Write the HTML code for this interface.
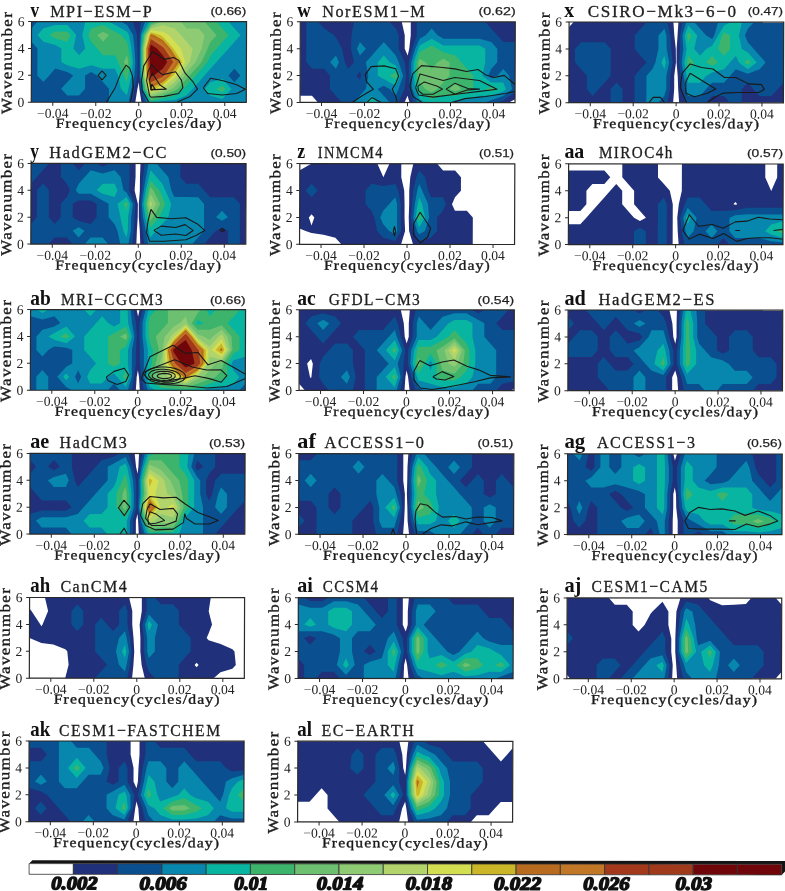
<!DOCTYPE html>
<html><head><meta charset="utf-8"><title>Wavenumber-frequency spectra</title>
<style>html,body{margin:0;padding:0;background:#fff;width:785px;height:891px;overflow:hidden}svg{display:block}</style>
</head><body>
<svg width="785" height="891" viewBox="0 0 785 891">
<g transform="matrix(1 0.0008 -0.0034 1 0.07327 -0.02524)">
<defs>
<clipPath id="cv"><rect x="31.55" y="21.55" width="215.00" height="80.70"/></clipPath>
<clipPath id="cw"><rect x="300.30" y="21.55" width="215.00" height="80.70"/></clipPath>
<clipPath id="cx"><rect x="569.10" y="21.55" width="214.60" height="80.70"/></clipPath>
<clipPath id="cy"><rect x="31.55" y="163.40" width="215.00" height="80.70"/></clipPath>
<clipPath id="cz"><rect x="300.30" y="163.40" width="215.00" height="80.70"/></clipPath>
<clipPath id="caa"><rect x="569.10" y="163.40" width="214.60" height="80.70"/></clipPath>
<clipPath id="cab"><rect x="31.55" y="309.55" width="215.00" height="80.70"/></clipPath>
<clipPath id="cac"><rect x="300.30" y="309.55" width="215.00" height="80.70"/></clipPath>
<clipPath id="cad"><rect x="569.10" y="309.55" width="214.60" height="80.70"/></clipPath>
<clipPath id="cae"><rect x="31.55" y="453.40" width="215.00" height="80.70"/></clipPath>
<clipPath id="caf"><rect x="300.30" y="453.40" width="215.00" height="80.70"/></clipPath>
<clipPath id="cag"><rect x="569.10" y="453.40" width="214.60" height="80.70"/></clipPath>
<clipPath id="cah"><rect x="31.55" y="597.50" width="215.00" height="80.70"/></clipPath>
<clipPath id="cai"><rect x="300.30" y="597.50" width="215.00" height="80.70"/></clipPath>
<clipPath id="caj"><rect x="569.10" y="597.50" width="214.60" height="80.70"/></clipPath>
<clipPath id="cak"><rect x="31.55" y="741.00" width="215.00" height="80.70"/></clipPath>
<clipPath id="cal"><rect x="300.30" y="741.00" width="215.00" height="80.70"/></clipPath>
</defs>
<g>
<rect x="31.55" y="21.55" width="215.00" height="80.70" fill="#fff"/>
<g clip-path="url(#cv)">
<path fill="#21307a" fill-rule="evenodd" d="M43.5 21.6L55.4 21.6L67.4 21.6L79.3 21.6L91.3 21.6L103.2 21.6L115.2 21.6L127.1 21.6L139.1 21.6L151.0 21.6L162.9 21.6L174.9 21.6L186.8 21.6L198.8 21.6L210.7 21.6L222.7 21.6L234.6 21.6L246.6 21.6L246.6 35.0L246.6 48.5L246.6 61.9L246.6 75.4L246.6 88.8L246.6 102.2L234.6 102.2L222.7 102.2L210.7 102.2L198.8 102.2L186.8 102.2L174.9 102.2L162.9 102.2L151.0 102.2L141.7 102.2L139.6 88.8L139.1 82.1L137.6 88.8L135.6 102.2L127.1 102.2L115.2 102.2L103.2 102.2L91.3 102.2L79.3 102.2L67.4 102.2L55.4 102.2L43.5 102.2L31.6 102.2L31.6 88.8L31.6 75.4L31.6 61.9L31.6 48.5L31.6 35.0L31.6 21.6Z"/>
<path fill="#0a4f8f" fill-rule="evenodd" d="M43.5 21.6L55.4 21.6L67.4 21.6L79.3 21.6L91.3 21.6L103.2 21.6L115.2 21.6L127.1 21.6L133.1 21.6L137.1 35.0L137.6 48.5L137.9 61.9L137.6 75.4L134.6 88.8L132.2 102.2L127.1 102.2L115.2 102.2L103.2 102.2L91.3 102.2L79.3 102.2L67.4 102.2L55.4 102.2L43.5 102.2L31.6 102.2L31.6 88.8L31.6 75.4L31.6 61.9L31.6 48.5L31.6 35.0L31.6 21.6ZM151.0 21.6L162.9 21.6L174.9 21.6L186.8 21.6L198.8 21.6L210.7 21.6L222.7 21.6L234.6 21.6L246.6 21.6L246.6 35.0L246.6 48.5L246.6 61.9L246.6 75.4L246.6 88.8L246.6 102.2L234.6 102.2L222.7 102.2L210.7 102.2L198.8 102.2L186.8 102.2L174.9 102.2L162.9 102.2L151.0 102.2L144.4 102.2L140.8 88.8L139.5 75.4L139.4 61.9L139.4 48.5L139.6 35.0L141.0 21.6Z"/>
<path fill="#0787ad" fill-rule="evenodd" d="M43.5 21.6L55.4 21.6L67.4 21.6L79.3 21.6L91.3 21.6L103.2 21.6L115.2 21.6L121.1 21.6L127.1 24.9L133.1 35.0L134.6 48.5L135.5 61.9L134.6 75.4L131.6 88.8L128.8 102.3L127.1 102.2L115.2 102.2L109.2 102.2L109.2 88.8L103.2 82.1L97.2 75.4L91.3 72.0L85.3 75.4L85.3 88.8L79.3 95.5L67.4 95.5L61.4 88.8L67.4 82.1L73.4 75.4L67.4 72.0L55.4 68.6L49.5 75.4L43.5 82.1L37.5 75.4L37.5 61.9L37.5 48.5L31.6 41.7L31.6 35.0L31.6 28.3L37.5 21.6ZM151.0 21.6L162.9 21.6L174.9 21.6L186.8 21.6L198.8 21.6L210.7 21.6L222.7 21.6L234.6 21.6L246.6 21.6L246.6 35.0L246.6 48.5L246.6 61.9L246.6 75.4L246.6 88.8L246.6 102.2L234.6 102.2L222.7 102.2L210.7 102.2L198.8 102.2L186.8 102.2L174.9 102.2L162.9 102.2L151.0 102.2L147.0 102.2L142.0 88.8L140.3 75.4L140.2 61.9L140.2 48.5L140.8 35.0L145.0 21.6ZM228.6 75.4L234.6 82.1L240.6 75.4L234.6 68.6Z"/>
<path fill="#08b5a0" fill-rule="evenodd" d="M43.5 28.3L55.4 24.9L67.4 24.9L76.3 35.0L73.4 48.5L79.3 55.2L85.3 48.5L82.3 35.0L85.3 21.6L91.3 21.6L103.2 21.6L109.2 21.6L115.2 24.9L127.1 31.6L129.1 35.0L131.6 48.5L133.1 61.9L131.6 75.4L128.6 88.8L127.1 95.5L121.1 88.8L118.1 75.4L115.2 68.6L103.2 68.6L91.3 65.3L79.3 68.6L67.4 65.3L61.4 61.9L61.4 48.5L55.4 45.1L43.5 41.7L37.5 35.0ZM151.0 21.6L162.9 21.6L174.9 21.6L186.8 21.6L198.8 21.6L210.7 21.6L222.7 21.6L228.6 21.6L234.6 28.3L240.6 35.0L234.6 41.7L228.6 48.5L222.7 55.2L216.7 61.9L210.7 68.6L204.7 75.4L198.8 82.1L192.8 88.8L186.8 95.5L174.9 100.0L162.9 100.9L157.0 102.2L151.0 102.2L149.7 102.2L143.2 88.8L141.2 75.4L141.0 61.9L141.0 48.5L142.0 35.0L149.0 21.6ZM210.7 82.1L222.7 78.7L231.6 88.8L222.7 98.9L210.7 95.5L204.7 88.8Z"/>
<path fill="#3cb46b" fill-rule="evenodd" d="M55.4 31.6L67.4 31.6L70.4 35.0L67.4 41.7L55.4 38.4L49.5 35.0ZM91.3 28.3L103.2 24.9L115.2 31.6L121.1 35.0L127.1 41.7L128.6 48.5L130.7 61.9L128.6 75.4L127.1 82.1L124.1 75.4L118.1 61.9L115.2 55.2L103.2 55.2L97.2 48.5L91.3 41.7L88.3 35.0ZM151.0 22.5L153.0 21.6L162.9 21.6L174.9 21.6L186.8 21.6L198.8 21.6L210.7 21.6L216.7 21.6L222.7 28.3L228.6 35.0L222.7 41.7L216.7 48.5L210.7 55.2L207.7 61.9L198.8 72.0L195.8 75.4L186.8 85.4L183.8 88.8L174.9 95.5L162.9 98.2L151.0 101.1L144.4 88.8L142.0 75.4L141.8 61.9L141.8 48.5L143.2 35.0ZM222.7 85.4L225.6 88.8L222.7 92.2L216.7 88.8Z"/>
<path fill="#6cc070" fill-rule="evenodd" d="M103.2 31.6L109.2 35.0L103.2 41.7L97.2 35.0ZM151.0 24.4L157.0 21.6L162.9 21.6L174.9 21.6L186.8 21.6L198.8 21.6L204.7 21.6L210.7 28.3L216.7 35.0L210.7 41.7L207.7 48.5L201.8 61.9L198.8 65.3L189.8 75.4L186.8 78.7L177.9 88.8L174.9 91.0L162.9 95.5L151.0 98.9L145.6 88.8L142.9 75.4L142.6 61.9L142.6 48.5L144.4 35.0ZM127.1 55.2L128.3 61.9L127.1 68.6L124.1 61.9Z"/>
<path fill="#8ecb72" fill-rule="evenodd" d="M151.0 26.4L160.9 21.6L162.9 21.6L174.9 21.6L180.9 21.6L186.8 28.3L198.8 28.3L204.7 35.0L201.8 48.5L198.8 55.2L195.8 61.9L186.8 72.0L184.8 75.4L174.9 86.6L171.9 88.8L162.9 92.8L151.0 96.6L146.8 88.8L143.7 75.4L143.4 61.9L143.4 48.5L145.6 35.0Z"/>
<path fill="#b2d46a" fill-rule="evenodd" d="M151.0 28.3L162.9 24.9L174.9 28.3L180.9 35.0L186.8 41.7L192.8 48.5L189.8 61.9L186.8 65.3L180.9 75.4L174.9 82.1L165.9 88.8L162.9 90.1L151.0 94.4L148.0 88.8L144.6 75.4L144.2 61.9L144.2 48.5L146.8 35.0Z"/>
<path fill="#d3df50" fill-rule="evenodd" d="M151.0 30.2L162.9 31.6L168.9 35.0L174.9 41.7L180.9 48.5L185.3 61.9L176.9 75.4L174.9 77.6L162.9 87.5L160.0 88.8L151.0 92.2L149.2 88.8L145.4 75.4L145.0 61.9L145.0 48.5L148.0 35.0Z"/>
<path fill="#cab626" fill-rule="evenodd" d="M151.0 32.1L160.0 35.0L162.9 36.7L173.4 48.5L174.9 50.7L182.3 61.9L174.9 73.1L173.4 75.4L162.9 84.8L154.0 88.8L151.0 89.9L150.4 88.8L146.3 75.4L145.8 61.9L145.8 48.5L149.2 35.0Z"/>
<path fill="#b86b1e" fill-rule="evenodd" d="M151.0 34.0L154.0 35.0L162.9 40.0L170.4 48.5L174.9 55.2L179.4 61.9L174.9 68.6L170.4 75.4L162.9 82.1L151.0 87.5L147.2 75.4L146.6 61.9L146.6 48.5L150.4 35.0Z"/>
<path fill="#c27727" fill-rule="evenodd" d="M151.0 36.3L162.9 43.4L167.4 48.5L174.9 59.7L176.4 61.9L174.9 64.1L167.4 75.4L162.9 79.4L151.0 84.8L148.0 75.4L147.4 61.9L147.4 48.5Z"/>
<path fill="#a3391a" fill-rule="evenodd" d="M151.0 39.0L162.9 46.8L164.4 48.5L173.4 61.9L164.4 75.4L162.9 76.7L151.0 82.1L148.9 75.4L148.2 61.9L148.2 48.4Z"/>
<path fill="#a1391b" fill-rule="evenodd" d="M151.0 41.7L160.9 48.5L162.9 50.7L170.4 61.9L162.9 73.1L160.0 75.4L151.0 79.4L149.7 75.4L149.0 61.9L149.0 48.5Z"/>
<path fill="#71060a" fill-rule="evenodd" d="M151.0 44.4L157.0 48.5L162.9 55.2L167.4 61.9L162.9 68.6L154.0 75.4L151.0 76.7L150.6 75.4L149.8 61.9L149.8 48.5Z"/>
<path fill="#70060a" fill-rule="evenodd" d="M151.0 47.1L153.0 48.5L162.9 59.7L164.4 61.9L162.9 64.1L151.0 68.6L150.6 61.9L150.6 48.5Z"/>
</g>
<g clip-path="url(#cv)" fill="none" stroke="#1a1a1a" stroke-width="1.1" stroke-linejoin="round">
<polyline points="106.7,102.2 115.4,87.6 121.1,73.1 126.2,65.1 129.8,68.0 132.7,76.0 133.5,87.6 130.7,102.2"/>
<polyline points="102.2,70.9 106.3,75.3 102.3,79.7 98.2,75.3 102.2,70.9"/>
<polyline points="149.1,102.1 142.5,90.5 141.7,80.4 143.9,65.8 152.5,51.6 158.3,54.9 164.2,59.3 173.6,57.4 178.7,60.0 185.3,73.1 193.3,81.8 197.7,89.0 190.4,96.3 177.4,101.8"/>
<polyline points="149.8,95.6 146.8,80.4 148.2,71.6 151.8,64.4 156.9,70.2 162.8,74.5 175.8,71.6 181.7,80.3 183.1,87.6 178.8,93.4 164.3,96.3 151.2,97.1 149.8,95.6"/>
<polyline points="151.2,89.8 149.7,78.9 152.6,73.1 159.9,84.7 166.5,89.1 159.9,89.3 151.2,89.8"/>
<polyline points="151.9,84.0 155.3,88.8 151.2,89.8 151.9,84.0"/>
<polyline points="203.5,87.6 210.7,78.1 222.3,80.3 236.9,84.6 245.6,89.0 236.9,93.4 222.4,94.8 207.9,93.4 203.5,87.6"/>
</g>
<rect x="31.55" y="21.55" width="215.00" height="80.70" fill="none" stroke="#2a2a2a" stroke-width="1.2"/>
<path d="M28.15 102.25H31.55M28.15 75.35H31.55M28.15 48.45H31.55M28.15 21.55H31.55M53.05 102.25V105.85M96.05 102.25V105.85M139.05 102.25V105.85M182.05 102.25V105.85M225.05 102.25V105.85" stroke="#2a2a2a" stroke-width="1" fill="none"/>
<g font-family="Liberation Serif, serif" font-size="13.6" fill="#222">
<text x="24.55" y="106.85" text-anchor="end">0</text>
<text x="24.55" y="79.95" text-anchor="end">2</text>
<text x="24.55" y="53.05" text-anchor="end">4</text>
<text x="24.55" y="26.15" text-anchor="end">6</text>
<text x="53.05" y="117.85" text-anchor="middle">−0.04</text>
<text x="96.05" y="117.85" text-anchor="middle">−0.02</text>
<text x="139.05" y="117.85" text-anchor="middle">0</text>
<text x="182.05" y="117.85" text-anchor="middle">0.02</text>
<text x="225.05" y="117.85" text-anchor="middle">0.04</text>
</g>
<text x="139.55" y="127.65" text-anchor="middle" font-family="Liberation Serif, serif" font-size="13.6" fill="#1a1a1a" stroke="#1a1a1a" stroke-width="0.35" letter-spacing="1.0" textLength="167" lengthAdjust="spacingAndGlyphs">Frequency(cycles/day)</text>
<text transform="translate(11.95 62.40) rotate(-90)" text-anchor="middle" font-family="Liberation Serif, serif" font-size="15.2" fill="#1a1a1a" stroke="#1a1a1a" stroke-width="0.35" letter-spacing="1.2" textLength="103" lengthAdjust="spacingAndGlyphs">Wavenumber</text>
</g>
<g>
<rect x="300.30" y="21.55" width="215.00" height="80.70" fill="#fff"/>
<g clip-path="url(#cw)">
<path fill="#21307a" fill-rule="evenodd" d="M312.2 21.6L324.2 21.6L336.1 21.6L348.1 21.6L360.0 21.6L372.0 21.6L383.9 21.6L395.9 21.6L401.8 21.6L404.8 35.0L404.8 48.5L407.8 55.2L409.3 48.5L410.8 35.0L410.8 21.6L419.7 21.6L431.7 21.6L443.6 21.6L455.6 21.6L467.5 21.6L479.5 21.6L491.4 21.6L503.4 21.6L515.3 21.6L515.3 35.0L515.3 48.5L515.3 61.9L515.3 75.4L515.3 88.8L515.3 98.9L509.3 102.2L503.4 102.2L491.4 102.2L479.5 102.2L467.5 102.2L455.6 102.2L443.6 102.2L431.7 102.2L419.7 102.2L409.8 102.2L407.8 95.5L404.8 102.2L395.9 102.2L383.9 102.2L372.0 102.2L360.0 102.2L348.1 102.2L336.1 102.2L324.2 102.2L318.2 102.2L312.2 95.5L300.3 95.5L300.3 88.8L300.3 75.4L300.3 61.9L300.3 48.5L300.3 35.0L300.3 21.6Z"/>
<path fill="#0a4f8f" fill-rule="evenodd" d="M312.2 21.6L318.2 21.6L324.2 28.3L334.1 35.0L336.1 37.2L342.1 48.5L345.1 61.9L348.1 68.6L354.1 61.9L351.1 48.5L351.5 35.0L354.1 21.6L360.0 21.6L372.0 21.6L383.9 21.6L389.9 21.6L395.9 28.3L398.8 35.0L398.8 48.5L404.8 61.9L406.3 75.4L404.8 88.8L398.8 102.2L395.9 102.2L383.9 102.2L372.0 102.2L360.0 102.2L348.1 102.2L342.1 102.2L336.1 95.5L330.2 88.8L330.2 75.4L324.2 68.6L312.2 68.6L306.3 61.9L306.3 48.5L306.3 35.0L306.3 21.6ZM356.6 75.4L360.0 79.2L361.4 75.3L360.0 71.5ZM419.7 21.6L431.7 21.6L443.6 21.6L455.6 21.6L467.5 21.6L479.5 21.6L485.4 21.6L491.4 28.3L497.4 35.0L503.4 41.7L515.3 41.7L515.3 48.5L515.3 61.9L515.3 75.4L515.3 88.8L515.3 92.2L503.4 100.0L497.4 102.2L491.4 102.2L479.5 102.2L467.5 102.2L455.6 102.2L443.6 102.2L431.7 102.2L419.7 102.2L413.8 102.2L409.3 88.8L409.0 75.4L409.0 61.9L412.3 48.5L416.8 35.0L416.8 21.6Z"/>
<path fill="#0787ad" fill-rule="evenodd" d="M431.7 28.3L437.7 35.0L443.6 38.4L455.6 38.4L467.5 38.4L479.5 38.4L491.4 41.7L497.4 48.5L497.4 61.9L491.4 68.6L488.4 75.4L491.4 77.6L497.4 75.4L503.4 68.6L509.3 75.4L512.3 88.8L503.4 95.5L491.4 100.0L485.4 102.2L479.5 102.2L467.5 102.2L455.6 102.2L443.6 102.2L431.7 102.2L419.7 102.2L417.8 102.2L412.3 88.8L411.4 75.4L411.4 61.9L415.3 48.5L419.7 38.4L425.7 35.0ZM360.0 41.7L366.0 48.5L360.0 55.2L357.0 48.5ZM383.9 41.7L389.9 48.5L395.9 55.2L398.8 61.9L403.3 75.4L398.8 88.8L395.9 95.5L389.9 88.8L383.9 85.4L377.9 88.8L383.9 95.5L389.9 102.2L383.9 102.2L372.0 102.2L360.0 102.2L354.1 102.2L360.0 95.5L366.0 88.8L368.5 75.3L366.0 61.9L372.0 55.2L377.9 48.5ZM336.1 55.2L339.1 61.9L336.1 68.6L330.2 61.9Z"/>
<path fill="#08b5a0" fill-rule="evenodd" d="M419.7 45.1L431.7 38.4L443.6 45.1L455.6 45.1L467.5 45.1L479.5 45.1L485.4 48.5L485.4 61.9L482.5 75.4L491.4 82.1L503.4 82.1L506.3 88.8L503.4 91.0L491.4 95.5L479.5 95.5L467.5 98.9L455.6 100.0L449.6 102.2L443.6 102.2L431.7 102.2L425.7 102.2L419.7 98.9L415.3 88.8L413.8 75.4L413.8 61.9L418.3 48.5ZM383.9 55.2L389.9 61.9L395.9 65.3L400.3 75.4L395.9 85.4L383.9 78.7L377.9 75.4L377.9 61.9ZM372.0 95.5L377.9 102.2L372.0 102.2L366.0 102.2Z"/>
<path fill="#3cb46b" fill-rule="evenodd" d="M431.7 45.1L437.7 48.5L443.6 51.8L455.6 55.2L461.5 61.9L467.5 68.6L473.5 75.4L473.5 88.8L467.5 92.2L455.6 95.5L443.6 95.5L431.7 98.9L419.7 92.2L418.3 88.8L416.2 75.4L416.2 61.9L419.7 51.8L425.7 48.5ZM395.9 72.0L397.3 75.4L395.9 78.7L389.9 75.4ZM491.4 86.6L497.4 88.8L491.4 91.0L485.4 88.8Z"/>
<path fill="#6cc070" fill-rule="evenodd" d="M419.7 58.5L425.7 61.9L431.7 68.6L437.7 61.9L443.6 58.5L449.6 61.9L449.6 75.4L443.6 82.1L437.7 88.8L431.7 92.2L425.7 88.8L419.7 82.1L418.5 75.4L418.5 61.9ZM455.6 82.1L461.5 88.8L455.6 91.0L449.6 88.8Z"/>
</g>
<g clip-path="url(#cw)" fill="none" stroke="#1a1a1a" stroke-width="1.1" stroke-linejoin="round">
<polyline points="352.5,102.3 361.2,96.2 373.5,88.9 366.9,81.6 365.4,74.4 371.2,66.4 384.3,65.6 395.9,68.5 398.8,75.8 396.0,83.1 392.4,88.9 396.0,96.1 397.5,102.2"/>
<polyline points="367.0,102.3 372.0,97.3 381.5,102.2"/>
<polyline points="421.7,101.6 413.0,96.1 410.0,86.0 412.9,73.6 421.6,65.3 440.5,67.0 455.0,68.5 466.6,71.1 478.2,69.2 485.5,74.3 494.2,77.2 504.4,75.0 515.5,84.4"/>
<polyline points="452.2,102.2 465.3,98.3 485.6,96.1 505.9,93.1 515.5,91.0"/>
<polyline points="415.8,87.4 420.2,73.6 443.4,80.1 455.0,77.2 479.7,80.1 497.2,88.8 479.8,91.0 462.3,93.2 433.3,96.8 418.8,94.7 415.8,87.4"/>
<polyline points="418.0,85.9 424.5,81.6 437.6,85.9 442.7,88.8 433.3,93.9 423.1,93.9 418.8,90.3 418.0,85.9"/>
<polyline points="446.3,88.8 455.0,83.0 468.1,88.1 479.7,88.8 468.1,89.5 455.1,93.9 446.3,88.8"/>
</g>
<rect x="300.30" y="21.55" width="215.00" height="80.70" fill="none" stroke="#2a2a2a" stroke-width="1.2"/>
<path d="M296.90 102.25H300.30M296.90 75.35H300.30M296.90 48.45H300.30M296.90 21.55H300.30M321.80 102.25V105.85M364.80 102.25V105.85M407.80 102.25V105.85M450.80 102.25V105.85M493.80 102.25V105.85" stroke="#2a2a2a" stroke-width="1" fill="none"/>
<g font-family="Liberation Serif, serif" font-size="13.6" fill="#222">
<text x="293.30" y="106.85" text-anchor="end">0</text>
<text x="293.30" y="79.95" text-anchor="end">2</text>
<text x="293.30" y="53.05" text-anchor="end">4</text>
<text x="293.30" y="26.15" text-anchor="end">6</text>
<text x="321.80" y="117.85" text-anchor="middle">−0.04</text>
<text x="364.80" y="117.85" text-anchor="middle">−0.02</text>
<text x="407.80" y="117.85" text-anchor="middle">0</text>
<text x="450.80" y="117.85" text-anchor="middle">0.02</text>
<text x="493.80" y="117.85" text-anchor="middle">0.04</text>
</g>
<text x="408.30" y="127.65" text-anchor="middle" font-family="Liberation Serif, serif" font-size="13.6" fill="#1a1a1a" stroke="#1a1a1a" stroke-width="0.35" letter-spacing="1.0" textLength="167" lengthAdjust="spacingAndGlyphs">Frequency(cycles/day)</text>
<text transform="translate(280.70 62.40) rotate(-90)" text-anchor="middle" font-family="Liberation Serif, serif" font-size="15.2" fill="#1a1a1a" stroke="#1a1a1a" stroke-width="0.35" letter-spacing="1.2" textLength="103" lengthAdjust="spacingAndGlyphs">Wavenumber</text>
</g>
<g>
<rect x="569.10" y="21.55" width="214.60" height="80.70" fill="#fff"/>
<g clip-path="url(#cx)">
<path fill="#21307a" fill-rule="evenodd" d="M581.0 21.6L592.9 21.6L604.9 21.6L616.8 21.6L628.7 21.6L640.6 21.6L652.6 21.6L664.5 21.6L673.4 21.6L674.4 35.0L675.9 48.5L676.1 61.9L674.4 75.4L674.4 88.8L673.4 102.2L664.5 102.2L652.6 102.2L640.6 102.2L628.7 102.2L616.8 102.2L604.9 102.2L592.9 102.2L581.0 102.2L569.1 102.2L569.1 88.8L569.1 75.4L569.1 61.9L569.1 48.5L569.1 35.0L569.1 26.6L573.6 21.6ZM688.3 21.6L700.2 21.6L712.2 21.6L724.1 21.6L736.0 21.6L747.9 21.6L759.9 21.6L771.8 21.6L783.7 21.6L783.7 35.0L783.7 48.5L783.7 61.9L783.7 75.4L783.7 88.8L783.7 102.2L771.8 102.2L759.9 102.2L747.9 102.2L736.0 102.2L724.1 102.2L712.2 102.2L700.2 102.2L688.3 102.2L679.4 102.2L678.4 88.8L677.9 75.4L676.7 61.9L676.7 48.5L677.6 35.0L678.4 21.6Z"/>
<path fill="#0a4f8f" fill-rule="evenodd" d="M640.6 28.3L646.6 21.6L652.6 21.6L664.5 21.6L667.5 21.6L670.4 35.0L671.4 48.5L672.8 61.9L670.4 75.4L670.4 88.8L667.5 102.2L664.5 102.2L652.6 102.2L640.6 102.2L634.7 102.2L634.7 88.8L634.7 75.4L640.6 68.6L646.6 61.9L640.6 55.2L634.7 48.5L634.7 35.0ZM688.3 21.6L700.2 21.6L712.2 21.6L724.1 21.6L736.0 21.6L747.9 21.6L759.9 21.6L771.8 21.6L783.7 21.6L783.7 35.0L783.7 48.5L783.7 61.9L783.7 75.4L783.7 82.1L777.7 88.8L771.8 95.5L759.9 95.5L753.9 88.8L747.9 82.1L742.0 88.8L742.0 102.2L736.0 102.2L730.1 102.2L724.1 95.5L712.2 95.5L706.2 102.2L700.2 102.2L688.3 102.2L685.3 102.2L682.4 88.8L680.9 75.4L679.3 61.9L680.0 48.5L680.0 35.0L682.4 21.6ZM581.0 41.7L592.9 41.7L604.9 41.7L610.8 48.5L610.8 61.9L610.8 75.4L604.9 82.1L598.9 88.8L592.9 95.5L587.0 88.8L587.0 75.4L581.0 68.6L575.1 61.9L575.1 48.5ZM616.8 82.1L622.8 88.8L622.8 102.2L616.8 102.2L610.8 102.2L610.8 88.8Z"/>
<path fill="#0787ad" fill-rule="evenodd" d="M664.5 28.3L666.5 35.0L666.8 48.5L669.4 61.9L666.5 75.4L666.5 88.8L664.5 95.5L658.5 102.2L652.6 102.2L646.6 102.2L646.6 88.8L646.6 75.4L652.6 68.6L655.5 61.9L658.5 48.5L658.5 35.0ZM688.3 21.6L694.3 21.6L700.2 28.3L706.2 35.0L712.2 38.4L714.2 35.0L718.1 21.6L724.1 21.6L736.0 21.6L747.9 21.6L753.9 21.6L747.9 28.3L745.0 35.0L747.9 41.7L753.9 48.5L759.9 55.2L765.8 61.9L759.9 68.6L747.9 73.1L736.0 68.6L730.1 75.4L724.1 82.1L712.2 82.1L706.2 88.8L700.2 95.5L688.3 95.5L686.3 88.8L683.9 75.4L681.8 61.9L683.4 48.5L682.4 35.0L686.3 21.6Z"/>
<path fill="#08b5a0" fill-rule="evenodd" d="M688.3 24.9L697.3 35.0L694.3 48.5L700.2 55.2L706.2 48.5L712.2 45.1L718.1 35.0L724.1 24.9L730.1 21.6L736.0 21.6L742.0 21.6L739.0 35.0L742.0 48.5L747.9 51.8L756.9 61.9L747.9 68.6L739.0 61.9L736.0 55.2L730.1 61.9L724.1 68.6L712.2 72.0L706.2 75.4L700.2 82.1L688.3 82.1L686.8 75.4L684.4 61.9L686.7 48.5L684.7 35.0ZM664.5 55.2L666.1 61.9L664.5 68.6L661.5 61.9Z"/>
<path fill="#3cb46b" fill-rule="evenodd" d="M688.3 31.6L691.3 35.0L688.3 41.7L687.1 35.0ZM724.1 31.6L730.1 35.0L730.1 48.5L724.1 55.2L718.1 48.5L722.1 35.0ZM688.3 55.2L694.3 61.9L688.3 68.6L687.0 61.9ZM712.2 55.2L718.1 61.9L712.2 65.3L706.2 61.9ZM747.9 58.5L750.9 61.9L747.9 64.1L745.0 61.9Z"/>
</g>
<g clip-path="url(#cx)" fill="none" stroke="#1a1a1a" stroke-width="1.1" stroke-linejoin="round">
<polyline points="649.1,102.3 653.4,96.9 660.7,96.9 665.0,102.3"/>
<polyline points="686.8,102.2 680.4,87.0 682.4,72.7 690.3,63.4 701.7,67.0 713.1,68.4 724.6,76.9 736.0,76.9 748.8,83.3 761.7,84.0 764.5,89.0 758.8,91.9 738.9,91.9 723.2,92.6 716.1,96.2 707.5,102.2"/>
<polyline points="690.3,72.7 701.7,79.8 716.0,88.4 707.5,92.7 694.7,96.2 686.1,92.7 686.0,81.3 690.3,72.7"/>
</g>
<rect x="569.10" y="21.55" width="214.60" height="80.70" fill="none" stroke="#2a2a2a" stroke-width="1.2"/>
<path d="M565.70 102.25H569.10M565.70 75.35H569.10M565.70 48.45H569.10M565.70 21.55H569.10M590.56 102.25V105.85M633.48 102.25V105.85M676.40 102.25V105.85M719.32 102.25V105.85M762.24 102.25V105.85" stroke="#2a2a2a" stroke-width="1" fill="none"/>
<g font-family="Liberation Serif, serif" font-size="13.6" fill="#222">
<text x="562.10" y="106.85" text-anchor="end">0</text>
<text x="562.10" y="79.95" text-anchor="end">2</text>
<text x="562.10" y="53.05" text-anchor="end">4</text>
<text x="562.10" y="26.15" text-anchor="end">6</text>
<text x="590.56" y="117.85" text-anchor="middle">−0.04</text>
<text x="633.48" y="117.85" text-anchor="middle">−0.02</text>
<text x="676.40" y="117.85" text-anchor="middle">0</text>
<text x="719.32" y="117.85" text-anchor="middle">0.02</text>
<text x="762.24" y="117.85" text-anchor="middle">0.04</text>
</g>
<text x="676.90" y="127.65" text-anchor="middle" font-family="Liberation Serif, serif" font-size="13.6" fill="#1a1a1a" stroke="#1a1a1a" stroke-width="0.35" letter-spacing="1.0" textLength="167" lengthAdjust="spacingAndGlyphs">Frequency(cycles/day)</text>
<text transform="translate(549.50 62.40) rotate(-90)" text-anchor="middle" font-family="Liberation Serif, serif" font-size="15.2" fill="#1a1a1a" stroke="#1a1a1a" stroke-width="0.35" letter-spacing="1.2" textLength="103" lengthAdjust="spacingAndGlyphs">Wavenumber</text>
</g>
<g>
<rect x="31.55" y="163.40" width="215.00" height="80.70" fill="#fff"/>
<g clip-path="url(#cy)">
<path fill="#21307a" fill-rule="evenodd" d="M43.5 163.4L55.4 163.4L67.4 163.4L79.3 163.4L91.3 163.4L103.2 163.4L115.2 163.4L127.1 163.4L136.1 163.4L136.1 176.9L135.2 190.3L138.5 203.8L138.4 217.2L137.6 230.7L137.1 244.1L127.1 244.1L115.2 244.1L103.2 244.1L91.3 244.1L79.3 244.1L67.4 244.1L55.4 244.1L43.5 244.1L31.6 244.1L31.6 230.7L31.6 217.2L31.6 203.8L31.6 190.3L31.6 176.9L31.6 163.4ZM151.0 163.4L162.9 163.4L174.9 163.4L186.8 163.4L198.8 163.4L210.7 163.4L222.7 163.4L234.6 163.4L246.6 163.4L246.6 176.9L246.6 190.3L246.6 203.8L246.6 217.2L246.6 230.7L246.6 244.1L234.6 244.1L222.7 244.1L210.7 244.1L198.8 244.1L186.8 244.1L174.9 244.1L162.9 244.1L151.0 244.1L141.0 244.1L140.5 230.7L139.5 217.2L139.4 203.8L140.4 190.3L140.5 176.9L141.0 163.4Z"/>
<path fill="#0a4f8f" fill-rule="evenodd" d="M43.5 163.4L49.5 163.4L43.5 170.1L37.5 176.9L31.6 183.6L31.6 176.9L31.6 163.4ZM67.4 163.4L73.4 163.4L79.3 170.1L85.3 163.4L91.3 163.4L97.2 163.4L103.2 166.8L109.2 163.4L115.2 163.4L127.1 163.4L130.1 163.4L130.1 176.9L129.8 190.3L136.0 203.8L135.2 217.2L134.6 230.7L133.1 244.1L127.1 244.1L115.2 244.1L103.2 244.1L91.3 244.1L79.3 244.1L73.4 244.1L67.4 237.4L55.4 237.4L49.5 244.1L43.5 244.1L31.6 244.1L31.6 230.7L31.6 223.9L37.5 217.2L37.5 203.8L37.5 190.3L43.5 183.6L49.5 190.3L49.5 203.8L49.5 217.2L55.4 223.9L61.4 217.2L61.4 203.8L67.4 197.0L70.4 190.3L67.4 183.6L61.4 176.9L61.4 163.4ZM73.4 203.8L73.4 217.2L79.3 220.6L91.3 223.9L97.2 217.2L97.2 203.8L91.3 200.4L79.3 200.4ZM151.0 163.4L162.9 163.4L174.9 163.4L180.9 163.4L180.9 176.9L186.8 183.6L198.8 183.6L204.7 190.3L210.7 197.0L222.7 197.0L234.6 197.0L240.6 203.8L240.6 217.2L240.6 230.7L240.6 244.1L234.6 244.1L228.6 244.1L228.6 230.7L222.7 227.3L216.7 230.7L210.7 237.4L204.7 244.1L198.8 244.1L186.8 244.1L174.9 244.1L162.9 244.1L151.0 244.1L145.0 244.1L143.5 230.7L141.6 217.2L140.9 203.8L142.3 190.3L143.5 176.9L145.0 163.4Z"/>
<path fill="#0787ad" fill-rule="evenodd" d="M91.3 170.1L103.2 173.5L115.2 170.1L121.1 176.9L124.1 190.3L127.1 192.5L133.5 203.8L131.9 217.2L131.6 230.7L129.1 244.1L127.1 244.1L121.1 244.1L118.1 230.7L115.2 223.9L109.2 217.2L109.2 203.8L103.2 200.4L91.3 193.7L79.3 193.7L76.3 190.3L79.3 183.6L85.3 176.9ZM151.0 163.4L157.0 163.4L162.9 170.1L168.9 176.9L171.9 190.3L174.9 197.0L186.8 197.0L198.8 197.0L204.7 203.8L204.7 217.2L204.7 230.7L198.8 237.4L192.8 244.1L186.8 244.1L174.9 244.1L162.9 244.1L151.0 244.1L149.0 244.1L146.5 230.7L143.7 217.2L142.5 203.8L144.3 190.3L146.5 176.9L149.0 163.4ZM222.7 210.5L228.6 217.2L222.7 220.6L216.7 217.2ZM79.3 227.3L85.3 230.7L79.3 237.4L73.4 230.7ZM91.3 237.4L103.2 237.4L109.2 244.1L103.2 244.1L91.3 244.1L85.3 244.1Z"/>
<path fill="#08b5a0" fill-rule="evenodd" d="M151.0 170.1L157.0 176.9L162.9 183.6L165.9 190.3L171.9 203.8L168.9 217.2L162.9 223.9L157.0 230.7L151.0 237.4L149.5 230.7L145.8 217.2L144.0 203.8L146.2 190.3L149.5 176.9ZM103.2 183.6L115.2 183.6L118.1 190.3L115.2 197.0L103.2 193.7L97.2 190.3ZM127.1 197.0L130.9 203.8L128.7 217.2L128.6 230.7L127.1 237.4L124.1 230.7L121.1 217.2L118.1 203.8Z"/>
<path fill="#3cb46b" fill-rule="evenodd" d="M151.0 180.2L160.0 190.3L162.9 197.0L165.9 203.8L162.9 210.5L160.0 217.2L151.0 227.3L147.9 217.2L145.6 203.8L148.1 190.3ZM127.1 201.5L128.4 203.7L127.1 210.5L124.1 203.8Z"/>
<path fill="#6cc070" fill-rule="evenodd" d="M151.0 186.9L154.0 190.3L160.9 203.8L154.0 217.2L151.0 220.6L149.9 217.2L147.1 203.8L150.0 190.3Z"/>
<path fill="#8ecb72" fill-rule="evenodd" d="M151.0 193.7L157.0 203.8L151.0 213.8L148.7 203.8Z"/>
<path fill="#b2d46a" fill-rule="evenodd" d="M151.0 200.4L153.0 203.8L151.0 207.1L150.2 203.8Z"/>
</g>
<g clip-path="url(#cy)" fill="none" stroke="#1a1a1a" stroke-width="1.1" stroke-linejoin="round">
<polyline points="151.6,209.3 157.4,217.3 172.0,218.7 186.5,217.7 198.1,223.8 205.4,230.3 196.7,235.4 186.6,239.7 164.8,241.2 150.3,241.2 147.3,232.5 148.7,220.9 151.6,209.3"/>
<polyline points="154.6,230.3 161.8,226.0 176.4,227.4 185.8,224.5 193.8,230.3 186.6,235.4 176.4,233.9 161.9,235.1 154.6,230.3"/>
<polyline points="220.7,230.0 222.8,228.4 225.5,230.3 222.8,231.7 220.7,230.0"/>
</g>
<rect x="31.55" y="163.40" width="215.00" height="80.70" fill="none" stroke="#2a2a2a" stroke-width="1.2"/>
<path d="M28.15 244.10H31.55M28.15 217.20H31.55M28.15 190.30H31.55M28.15 163.40H31.55M53.05 244.10V247.70M96.05 244.10V247.70M139.05 244.10V247.70M182.05 244.10V247.70M225.05 244.10V247.70" stroke="#2a2a2a" stroke-width="1" fill="none"/>
<g font-family="Liberation Serif, serif" font-size="13.6" fill="#222">
<text x="24.55" y="248.70" text-anchor="end">0</text>
<text x="24.55" y="221.80" text-anchor="end">2</text>
<text x="24.55" y="194.90" text-anchor="end">4</text>
<text x="24.55" y="168.00" text-anchor="end">6</text>
<text x="53.05" y="259.70" text-anchor="middle">−0.04</text>
<text x="96.05" y="259.70" text-anchor="middle">−0.02</text>
<text x="139.05" y="259.70" text-anchor="middle">0</text>
<text x="182.05" y="259.70" text-anchor="middle">0.02</text>
<text x="225.05" y="259.70" text-anchor="middle">0.04</text>
</g>
<text x="139.55" y="269.50" text-anchor="middle" font-family="Liberation Serif, serif" font-size="13.6" fill="#1a1a1a" stroke="#1a1a1a" stroke-width="0.35" letter-spacing="1.0" textLength="167" lengthAdjust="spacingAndGlyphs">Frequency(cycles/day)</text>
<text transform="translate(11.95 204.25) rotate(-90)" text-anchor="middle" font-family="Liberation Serif, serif" font-size="15.2" fill="#1a1a1a" stroke="#1a1a1a" stroke-width="0.35" letter-spacing="1.2" textLength="103" lengthAdjust="spacingAndGlyphs">Wavenumber</text>
</g>
<g>
<rect x="300.30" y="163.40" width="215.00" height="80.70" fill="#fff"/>
<g clip-path="url(#cz)">
<path fill="#21307a" fill-rule="evenodd" d="M312.2 163.4L312.2 163.4L324.2 163.4L336.1 163.4L348.1 163.4L360.0 163.4L372.0 163.4L377.9 163.4L383.9 176.9L383.9 176.9L383.9 176.9L389.9 163.4L395.9 163.4L401.8 163.4L401.8 176.9L404.8 190.3L405.2 203.8L405.2 217.2L405.8 230.7L401.8 244.1L395.9 244.1L383.9 244.1L372.0 244.1L360.0 244.1L348.1 244.1L342.1 244.1L336.1 237.4L324.2 234.5L312.2 232.9L306.3 230.7L300.3 228.4L300.3 217.2L300.3 203.8L300.3 190.3L300.3 176.9L300.3 170.1ZM309.5 217.2L312.2 225.3L315.0 217.2L312.2 214.1ZM419.7 163.4L431.7 163.4L437.7 163.4L443.6 170.1L455.6 170.1L461.5 176.9L461.5 190.3L455.6 197.0L452.6 203.8L455.6 210.5L467.5 210.5L473.5 217.2L473.5 230.7L473.5 244.1L467.5 244.1L455.6 244.1L443.6 244.1L431.7 244.1L419.7 244.1L413.8 244.1L409.8 230.7L409.4 217.2L409.8 203.8L409.8 190.3L410.8 176.9L413.8 163.4Z"/>
<path fill="#0a4f8f" fill-rule="evenodd" d="M419.7 170.1L425.7 176.9L428.7 190.3L431.7 197.0L443.6 197.0L446.6 203.8L443.6 210.5L437.7 217.2L437.7 230.7L431.7 237.4L419.7 240.7L413.8 230.7L411.7 217.2L412.6 203.8L413.8 190.3L416.8 176.9ZM312.2 183.6L318.2 190.3L312.2 197.0L306.3 190.3ZM372.0 183.6L383.9 185.8L395.9 183.6L398.8 190.3L401.5 203.8L401.5 217.2L401.8 230.7L395.9 240.7L383.9 237.4L377.9 230.7L375.0 217.2L372.0 210.5L366.0 203.8L366.0 190.3Z"/>
<path fill="#0787ad" fill-rule="evenodd" d="M419.7 183.6L422.7 190.3L428.7 203.8L429.7 217.2L425.7 230.7L419.7 234.0L417.8 230.7L414.0 217.2L415.5 203.7L417.8 190.3ZM395.9 197.0L397.7 203.8L397.7 217.2L397.8 230.7L395.9 234.0L389.9 230.7L383.9 223.9L380.9 217.2L383.9 210.5L389.9 203.8Z"/>
<path fill="#08b5a0" fill-rule="evenodd" d="M419.7 197.0L422.7 203.8L425.7 217.2L419.7 227.3L416.3 217.2L418.3 203.8Z"/>
<path fill="#3cb46b" fill-rule="evenodd" d="M419.7 210.5L421.7 217.2L419.7 220.6L418.6 217.2Z"/>
</g>
<g clip-path="url(#cz)" fill="none" stroke="#1a1a1a" stroke-width="1.1" stroke-linejoin="round">
<polyline points="395.2,226.2 396.3,230.9 395.2,235.5 394.0,230.9 395.2,226.2"/>
<polyline points="420.8,212.0 431.3,227.9 428.4,236.7 421.2,242.5 414.6,235.2 414.1,223.6 420.8,212.0"/>
</g>
<rect x="300.30" y="163.40" width="215.00" height="80.70" fill="none" stroke="#2a2a2a" stroke-width="1.2"/>
<path d="M296.90 244.10H300.30M296.90 217.20H300.30M296.90 190.30H300.30M296.90 163.40H300.30M321.80 244.10V247.70M364.80 244.10V247.70M407.80 244.10V247.70M450.80 244.10V247.70M493.80 244.10V247.70" stroke="#2a2a2a" stroke-width="1" fill="none"/>
<g font-family="Liberation Serif, serif" font-size="13.6" fill="#222">
<text x="293.30" y="248.70" text-anchor="end">0</text>
<text x="293.30" y="221.80" text-anchor="end">2</text>
<text x="293.30" y="194.90" text-anchor="end">4</text>
<text x="293.30" y="168.00" text-anchor="end">6</text>
<text x="321.80" y="259.70" text-anchor="middle">−0.04</text>
<text x="364.80" y="259.70" text-anchor="middle">−0.02</text>
<text x="407.80" y="259.70" text-anchor="middle">0</text>
<text x="450.80" y="259.70" text-anchor="middle">0.02</text>
<text x="493.80" y="259.70" text-anchor="middle">0.04</text>
</g>
<text x="408.30" y="269.50" text-anchor="middle" font-family="Liberation Serif, serif" font-size="13.6" fill="#1a1a1a" stroke="#1a1a1a" stroke-width="0.35" letter-spacing="1.0" textLength="167" lengthAdjust="spacingAndGlyphs">Frequency(cycles/day)</text>
<text transform="translate(280.70 204.25) rotate(-90)" text-anchor="middle" font-family="Liberation Serif, serif" font-size="15.2" fill="#1a1a1a" stroke="#1a1a1a" stroke-width="0.35" letter-spacing="1.2" textLength="103" lengthAdjust="spacingAndGlyphs">Wavenumber</text>
</g>
<g>
<rect x="569.10" y="163.40" width="214.60" height="80.70" fill="#fff"/>
<g clip-path="url(#caa)">
<path fill="#21307a" fill-rule="evenodd" d="M581.0 170.1L592.9 170.1L604.9 170.1L610.8 176.9L604.9 183.6L592.9 183.6L587.0 190.3L587.0 203.8L581.0 210.5L569.1 210.5L569.1 203.8L569.1 190.3L569.1 176.9L569.1 170.1ZM628.7 163.4L640.6 163.4L652.6 163.4L658.5 163.4L658.5 176.9L664.5 183.6L670.4 190.3L673.4 203.8L673.4 217.2L673.4 230.7L673.4 244.1L664.5 244.1L652.6 244.1L640.6 244.1L628.7 244.1L616.8 244.1L604.9 244.1L592.9 244.1L581.0 244.1L569.1 244.1L569.1 230.7L569.1 223.9L581.0 223.9L587.0 217.2L592.9 210.5L598.9 203.8L604.9 197.0L610.8 190.3L616.8 183.6L622.8 190.3L622.8 203.8L628.7 210.5L634.7 217.2L640.6 220.6L646.6 217.2L640.6 210.5L634.7 203.8L634.7 190.3L628.7 183.6L622.8 176.9L622.8 163.4ZM688.3 163.4L700.2 163.4L712.2 163.4L724.1 163.4L736.0 163.4L747.9 163.4L759.9 163.4L765.8 163.4L765.8 176.9L771.8 190.3L771.8 190.3L771.8 190.3L777.7 176.9L777.7 163.4L783.7 163.4L783.7 176.9L783.7 190.3L783.7 203.8L783.7 217.2L783.7 230.7L783.7 244.1L771.8 244.1L759.9 244.1L747.9 244.1L736.0 244.1L724.1 244.1L712.2 244.1L700.2 244.1L688.3 244.1L679.4 244.1L678.4 230.7L677.9 217.2L679.4 203.8L682.4 190.3L682.4 176.9L682.4 163.4ZM734.0 203.8L736.0 204.3L738.0 203.8L736.0 201.5Z"/>
<path fill="#0a4f8f" fill-rule="evenodd" d="M664.5 197.0L667.5 203.8L667.5 217.2L667.5 230.7L667.5 244.1L664.5 244.1L658.5 244.1L658.5 230.7L658.5 217.2L658.5 203.8ZM688.3 197.0L700.2 197.0L706.2 203.8L712.2 210.5L724.1 210.5L736.0 209.4L747.9 207.1L759.9 207.1L771.8 207.1L783.7 207.1L783.7 217.2L783.7 230.7L783.7 244.1L771.8 244.1L759.9 244.1L747.9 244.1L736.0 244.1L730.1 244.1L724.1 237.4L718.1 244.1L712.2 244.1L700.2 244.1L688.3 244.1L685.3 244.1L682.4 230.7L680.9 217.2L685.3 203.8ZM640.6 227.3L646.6 230.7L646.6 244.1L640.6 244.1L634.7 244.1L634.7 230.7Z"/>
<path fill="#0787ad" fill-rule="evenodd" d="M688.3 207.1L697.3 217.2L694.3 230.7L688.3 237.4L686.3 230.7L683.9 217.2ZM736.0 214.6L747.9 213.8L759.9 213.8L771.8 213.8L783.7 213.8L783.7 217.2L783.7 230.7L783.7 241.9L771.8 240.7L759.9 237.4L747.9 237.4L736.0 237.4L730.1 230.7L730.1 217.2ZM712.2 223.9L718.1 230.7L712.2 237.4L706.2 230.7Z"/>
<path fill="#08b5a0" fill-rule="evenodd" d="M688.3 213.8L691.3 217.2L688.3 223.9L686.8 217.2ZM771.8 223.9L783.7 220.6L783.7 230.7L783.7 237.4L771.8 234.0L765.8 230.7Z"/>
<path fill="#3cb46b" fill-rule="evenodd" d="M783.7 227.3L783.7 230.7L783.7 232.9L777.7 230.7Z"/>
</g>
<g clip-path="url(#caa)" fill="none" stroke="#1a1a1a" stroke-width="1.1" stroke-linejoin="round">
<polyline points="783.8,219.1 770.6,218.4 759.0,216.7 747.5,220.6 736.0,221.3 723.8,227.8 713.0,223.9 699.3,225.7 689.9,214.2 683.5,230.0 690.0,238.6 700.1,233.6 713.8,237.9 724.5,232.9 737.5,240.8 747.6,237.9 759.1,237.2 770.6,237.1 783.9,238.6"/>
<polyline points="736.0,230.0 740.7,230.0"/>
<polyline points="774.2,229.9 783.8,228.8"/>
</g>
<rect x="569.10" y="163.40" width="214.60" height="80.70" fill="none" stroke="#2a2a2a" stroke-width="1.2"/>
<path d="M565.70 244.10H569.10M565.70 217.20H569.10M565.70 190.30H569.10M565.70 163.40H569.10M590.56 244.10V247.70M633.48 244.10V247.70M676.40 244.10V247.70M719.32 244.10V247.70M762.24 244.10V247.70" stroke="#2a2a2a" stroke-width="1" fill="none"/>
<g font-family="Liberation Serif, serif" font-size="13.6" fill="#222">
<text x="562.10" y="248.70" text-anchor="end">0</text>
<text x="562.10" y="221.80" text-anchor="end">2</text>
<text x="562.10" y="194.90" text-anchor="end">4</text>
<text x="562.10" y="168.00" text-anchor="end">6</text>
<text x="590.56" y="259.70" text-anchor="middle">−0.04</text>
<text x="633.48" y="259.70" text-anchor="middle">−0.02</text>
<text x="676.40" y="259.70" text-anchor="middle">0</text>
<text x="719.32" y="259.70" text-anchor="middle">0.02</text>
<text x="762.24" y="259.70" text-anchor="middle">0.04</text>
</g>
<text x="676.90" y="269.50" text-anchor="middle" font-family="Liberation Serif, serif" font-size="13.6" fill="#1a1a1a" stroke="#1a1a1a" stroke-width="0.35" letter-spacing="1.0" textLength="167" lengthAdjust="spacingAndGlyphs">Frequency(cycles/day)</text>
<text transform="translate(549.50 204.25) rotate(-90)" text-anchor="middle" font-family="Liberation Serif, serif" font-size="15.2" fill="#1a1a1a" stroke="#1a1a1a" stroke-width="0.35" letter-spacing="1.2" textLength="103" lengthAdjust="spacingAndGlyphs">Wavenumber</text>
</g>
<g>
<rect x="31.55" y="309.55" width="215.00" height="80.70" fill="#fff"/>
<g clip-path="url(#cab)">
<path fill="#21307a" fill-rule="evenodd" d="M43.5 309.6L55.4 309.6L67.4 309.6L79.3 309.6L91.3 309.6L103.2 309.6L115.2 309.6L127.1 309.6L137.6 309.6L139.1 316.3L140.5 309.6L151.0 309.6L162.9 309.6L174.9 309.6L186.8 309.6L198.8 309.6L210.7 309.6L222.7 309.6L234.6 309.6L246.6 309.6L246.6 323.0L246.6 336.4L246.6 349.9L246.6 363.4L246.6 376.8L246.6 390.2L234.6 390.2L222.7 390.2L210.7 390.2L198.8 390.2L186.8 390.2L174.9 390.2L162.9 390.2L151.0 390.2L141.0 390.2L140.2 376.8L139.1 370.1L137.9 376.8L137.1 390.2L127.1 390.2L115.2 390.2L103.2 390.2L91.3 390.2L79.3 390.2L67.4 390.2L55.4 390.2L43.5 390.2L31.6 390.2L31.6 376.8L31.6 363.4L31.6 349.9L31.6 336.4L31.6 323.0L31.6 309.6Z"/>
<path fill="#0a4f8f" fill-rule="evenodd" d="M43.5 309.6L55.4 309.6L67.4 309.6L79.3 309.6L91.3 309.6L103.2 309.6L115.2 309.6L127.1 309.6L134.6 309.6L137.1 323.0L137.9 336.4L137.1 349.9L137.1 363.4L135.5 376.8L133.1 390.2L127.1 390.2L115.2 390.2L103.2 390.2L91.3 390.2L79.3 390.2L67.4 390.2L55.4 390.2L43.5 390.2L31.6 390.2L31.6 376.8L31.6 363.4L31.6 349.9L31.6 336.4L31.6 323.0L31.6 309.6ZM151.0 309.6L162.9 309.6L174.9 309.6L186.8 309.6L198.8 309.6L210.7 309.6L222.7 309.6L234.6 309.6L246.6 309.6L246.6 323.0L246.6 336.4L246.6 349.9L246.6 363.4L246.6 376.8L246.6 390.2L234.6 390.2L222.7 390.2L210.7 390.2L198.8 390.2L186.8 390.2L174.9 390.2L162.9 390.2L151.0 390.2L145.0 390.2L142.6 376.8L141.0 363.4L141.0 349.9L140.5 336.4L140.5 323.0L143.5 309.6Z"/>
<path fill="#0787ad" fill-rule="evenodd" d="M43.5 309.6L55.4 309.6L67.4 309.6L79.3 309.6L91.3 309.6L103.2 309.6L115.2 309.6L127.1 309.6L131.6 309.6L133.1 323.0L135.5 336.4L133.1 349.9L133.1 363.4L133.1 376.8L129.1 390.2L127.1 390.2L121.1 390.2L115.2 383.5L109.2 390.2L103.2 390.2L91.3 390.2L79.3 390.2L73.4 390.2L67.4 386.9L58.4 376.8L67.4 366.7L73.4 363.4L73.4 349.9L67.4 347.7L55.4 346.5L49.5 349.9L43.5 356.6L37.5 349.9L37.5 336.4L43.5 329.7L55.4 326.4L61.4 323.0L55.4 316.3L43.5 319.6L31.6 316.3L31.6 309.6ZM76.3 376.8L79.3 383.5L82.3 376.8L79.3 370.1ZM151.0 309.6L162.9 309.6L174.9 309.6L186.8 309.6L198.8 309.6L210.7 309.6L222.7 309.6L234.6 309.6L246.6 309.6L246.6 323.0L246.6 336.4L246.6 349.9L246.6 363.4L246.6 376.8L246.6 383.5L240.6 390.2L234.6 390.2L222.7 390.2L210.7 390.2L198.8 390.2L186.8 390.2L174.9 390.2L162.9 390.2L151.0 390.2L149.0 390.2L145.0 376.8L145.0 363.4L145.0 349.9L143.5 336.4L143.5 323.0L146.5 309.6ZM43.5 370.1L49.5 376.8L49.5 390.2L43.5 390.2L37.5 390.2L37.5 376.8Z"/>
<path fill="#08b5a0" fill-rule="evenodd" d="M43.5 309.6L49.5 309.6L43.5 312.9L37.5 309.6ZM91.3 309.6L97.2 309.6L91.3 316.3L85.3 309.6ZM103.2 316.3L109.2 323.0L115.2 326.4L121.1 323.0L121.1 309.6L127.1 309.6L128.6 309.6L129.1 323.0L133.1 336.4L129.1 349.9L129.1 363.4L130.7 376.8L127.1 386.9L118.1 376.8L115.2 373.4L109.2 376.8L103.2 383.5L91.3 383.5L88.3 376.8L91.3 370.1L97.2 363.4L91.3 356.6L85.3 349.9L85.3 336.4L91.3 329.7L97.2 323.0ZM151.0 309.6L162.9 309.6L174.9 309.6L186.8 309.6L198.8 309.6L210.7 309.6L222.7 309.6L234.6 309.6L246.6 309.6L246.6 323.0L246.6 336.4L246.6 349.9L246.6 356.6L234.6 360.0L232.6 363.4L234.6 370.1L240.6 376.8L234.6 383.5L222.7 386.9L210.7 388.0L204.7 390.2L198.8 390.2L186.8 390.2L174.9 390.2L162.9 390.2L157.0 390.2L151.0 386.9L147.4 376.8L149.0 363.4L149.0 349.9L146.5 336.4L146.5 323.0L149.5 309.6ZM55.4 333.1L67.4 326.4L76.3 336.4L67.4 343.2L55.4 339.8L49.5 336.4ZM67.4 373.4L70.4 376.8L67.4 380.2L64.4 376.8Z"/>
<path fill="#3cb46b" fill-rule="evenodd" d="M151.0 316.3L157.0 309.6L162.9 309.6L174.9 309.6L186.8 309.6L198.8 309.6L207.7 309.6L210.7 316.3L216.7 309.6L222.7 309.6L234.6 309.6L240.6 309.6L234.6 316.3L228.6 323.0L234.6 329.7L240.6 336.4L240.6 349.9L234.6 353.3L228.6 363.4L228.6 376.8L222.7 380.2L210.7 383.5L198.8 388.0L186.8 389.3L174.9 388.6L162.9 388.0L151.0 380.2L149.8 376.8L151.0 370.1L153.0 363.4L154.0 349.9L151.0 343.2L149.5 336.4L149.5 323.0ZM196.8 323.0L198.8 325.2L204.7 323.0L198.8 319.6ZM67.4 333.1L70.4 336.4L67.4 338.7L61.4 336.4ZM115.2 333.1L127.1 326.4L130.7 336.4L127.1 346.5L121.1 349.9L121.1 363.4L115.2 366.7L109.2 363.4L109.2 349.9L109.2 336.4ZM127.1 370.1L128.3 376.8L127.1 380.2L124.1 376.8Z"/>
<path fill="#6cc070" fill-rule="evenodd" d="M174.9 309.6L186.8 309.6L198.8 309.6L201.8 309.6L198.8 312.9L192.8 323.0L198.8 329.7L210.7 329.7L222.7 325.2L232.6 336.4L233.6 349.9L224.7 363.4L222.7 370.1L216.7 376.8L210.7 379.0L198.8 383.5L186.8 387.4L174.9 385.2L162.9 383.5L154.0 376.8L157.0 363.4L160.0 349.9L157.0 336.4L162.9 329.7L168.9 323.0L168.9 309.6ZM127.1 333.1L128.3 336.4L127.1 339.8L121.1 336.4Z"/>
<path fill="#8ecb72" fill-rule="evenodd" d="M186.8 316.3L188.8 323.0L198.8 334.2L204.7 336.4L210.7 339.8L213.7 336.4L222.7 329.7L228.6 336.4L231.6 349.9L222.7 362.0L216.7 363.4L210.7 370.1L204.7 376.8L198.8 379.0L186.8 385.4L174.9 381.8L162.9 379.0L160.0 376.8L160.9 363.4L162.9 356.6L163.6 349.9L165.9 336.4L174.9 326.4L180.9 323.0Z"/>
<path fill="#b2d46a" fill-rule="evenodd" d="M174.9 333.1L186.8 324.0L197.9 336.4L198.8 337.6L210.7 346.5L219.7 336.4L222.7 334.2L224.7 336.4L229.6 349.9L222.7 359.3L210.7 356.6L209.9 363.4L198.8 375.8L197.3 376.8L186.8 383.5L174.9 378.5L168.9 376.8L164.1 363.4L164.9 349.9L171.9 336.4Z"/>
<path fill="#d3df50" fill-rule="evenodd" d="M186.8 325.9L196.2 336.4L198.8 339.8L209.5 349.9L208.2 363.4L198.8 373.9L194.3 376.8L186.8 381.6L176.9 376.8L174.9 375.1L166.5 363.4L166.3 349.9L174.9 337.4L175.9 336.4ZM222.7 338.7L227.6 349.9L222.7 356.6L212.7 349.9Z"/>
<path fill="#cab626" fill-rule="evenodd" d="M186.8 327.8L194.5 336.4L198.8 342.1L207.1 349.9L206.5 363.4L198.8 372.0L191.3 376.8L186.8 379.7L180.9 376.8L174.9 371.8L168.9 363.4L167.6 349.9L174.9 339.3L177.9 336.4ZM222.7 343.2L225.6 349.9L222.7 353.9L216.7 349.9Z"/>
<path fill="#b86b1e" fill-rule="evenodd" d="M186.8 329.7L192.8 336.4L198.8 344.3L204.7 349.9L204.7 363.4L198.8 370.1L188.3 376.8L186.8 377.8L184.8 376.8L174.9 368.4L171.3 363.4L168.9 349.9L174.9 341.3L179.9 336.4ZM222.7 347.7L223.7 349.9L222.7 351.2L220.7 349.9Z"/>
<path fill="#c27727" fill-rule="evenodd" d="M186.8 331.6L191.1 336.4L198.8 346.5L202.4 349.9L203.0 363.4L198.8 368.2L186.8 375.5L174.9 365.0L173.7 363.4L170.2 349.9L174.9 343.2L181.9 336.4Z"/>
<path fill="#a3391a" fill-rule="evenodd" d="M186.8 333.6L189.4 336.4L198.8 348.8L200.0 349.9L201.3 363.3L198.8 366.2L186.8 372.8L176.4 363.4L174.9 361.1L171.6 349.9L174.9 345.1L183.8 336.4Z"/>
<path fill="#a1391b" fill-rule="evenodd" d="M186.8 335.5L187.7 336.4L196.8 349.9L198.8 356.6L199.6 363.4L198.8 364.3L186.8 370.1L179.4 363.4L174.9 356.6L172.9 349.9L174.9 347.0L185.8 336.4Z"/>
<path fill="#71060a" fill-rule="evenodd" d="M174.9 348.9L186.8 339.8L192.8 349.9L195.8 363.4L186.8 367.4L182.3 363.4L174.9 352.1L174.2 349.9Z"/>
<path fill="#70060a" fill-rule="evenodd" d="M186.8 346.5L188.8 349.9L189.8 363.4L186.8 364.7L185.3 363.4L180.9 349.9Z"/>
</g>
<g clip-path="url(#cab)" fill="none" stroke="#1a1a1a" stroke-width="1.1" stroke-linejoin="round">
<polyline points="107.4,377.1 115.3,371.3 125.5,368.1 129.9,374.9 127.0,381.4 118.3,384.4 109.5,380.7 107.4,377.1"/>
<polyline points="142.5,378.5 151.1,356.7 174.3,345.1 186.0,353.1 199.0,352.3 209.2,364.7 222.3,360.3 236.8,368.3 246.6,374.1"/>
<polyline points="246.6,378.4 228.2,386.4 207.9,387.9 186.1,385.7 164.3,384.3 146.8,382.9 142.5,378.5"/>
<polyline points="143.9,372.7 157.0,366.9 175.8,359.6 193.3,366.9 207.8,369.8 222.3,369.7 228.1,375.5 222.4,382.1 210.7,378.5 196.2,375.6 183.1,378.5 164.3,381.4 149.7,379.2 143.9,372.7"/>
<polyline points="186.8,376.3 186.1,378.5 184.1,380.4 180.8,382.0 176.6,383.1 171.7,383.7 166.5,383.7 161.2,383.2 156.3,382.1 152.1,380.6 148.8,378.7 146.8,376.5 146.1,374.3 146.8,372.2 148.8,370.2 152.0,368.6 156.2,367.5 161.1,366.9 166.4,366.9 171.7,367.4 176.6,368.5 180.8,370.1 184.0,372.0 186.1,374.1 186.8,376.3"/>
<polyline points="181.7,376.4 181.1,378.0 179.5,379.5 177.0,380.7 173.7,381.5 169.9,382.0 165.7,382.0 161.6,381.6 157.7,380.7 154.4,379.6 151.9,378.1 150.3,376.5 149.7,374.8 150.3,373.2 151.9,371.7 154.4,370.5 157.7,369.7 161.5,369.2 165.7,369.2 169.8,369.6 173.7,370.5 177.0,371.6 179.5,373.1 181.1,374.7 181.7,376.4"/>
<polyline points="176.6,375.7 176.0,377.2 174.4,378.5 171.8,379.5 168.6,380.2 165.0,380.4 161.4,380.2 158.2,379.5 155.6,378.5 153.9,377.2 153.4,375.8 153.9,374.3 155.6,373.0 158.1,372.0 161.4,371.3 165.0,371.1 168.6,371.3 171.8,372.0 174.4,373.0 176.0,374.3 176.6,375.7"/>
<polyline points="173.0,375.9 172.4,376.9 170.8,377.7 168.5,378.3 165.7,378.5 162.9,378.3 160.6,377.7 159.0,376.9 158.4,375.9 159.0,374.9 160.6,374.0 162.9,373.5 165.7,373.3 168.5,373.5 170.8,374.0 172.4,374.9 173.0,375.9"/>
</g>
<rect x="31.55" y="309.55" width="215.00" height="80.70" fill="none" stroke="#2a2a2a" stroke-width="1.2"/>
<path d="M28.15 390.25H31.55M28.15 363.35H31.55M28.15 336.45H31.55M28.15 309.55H31.55M53.05 390.25V393.85M96.05 390.25V393.85M139.05 390.25V393.85M182.05 390.25V393.85M225.05 390.25V393.85" stroke="#2a2a2a" stroke-width="1" fill="none"/>
<g font-family="Liberation Serif, serif" font-size="13.6" fill="#222">
<text x="24.55" y="394.85" text-anchor="end">0</text>
<text x="24.55" y="367.95" text-anchor="end">2</text>
<text x="24.55" y="341.05" text-anchor="end">4</text>
<text x="24.55" y="314.15" text-anchor="end">6</text>
<text x="53.05" y="405.85" text-anchor="middle">−0.04</text>
<text x="96.05" y="405.85" text-anchor="middle">−0.02</text>
<text x="139.05" y="405.85" text-anchor="middle">0</text>
<text x="182.05" y="405.85" text-anchor="middle">0.02</text>
<text x="225.05" y="405.85" text-anchor="middle">0.04</text>
</g>
<text x="139.55" y="415.65" text-anchor="middle" font-family="Liberation Serif, serif" font-size="13.6" fill="#1a1a1a" stroke="#1a1a1a" stroke-width="0.35" letter-spacing="1.0" textLength="167" lengthAdjust="spacingAndGlyphs">Frequency(cycles/day)</text>
<text transform="translate(11.95 350.40) rotate(-90)" text-anchor="middle" font-family="Liberation Serif, serif" font-size="15.2" fill="#1a1a1a" stroke="#1a1a1a" stroke-width="0.35" letter-spacing="1.2" textLength="103" lengthAdjust="spacingAndGlyphs">Wavenumber</text>
</g>
<g>
<rect x="300.30" y="309.55" width="215.00" height="80.70" fill="#fff"/>
<g clip-path="url(#cac)">
<path fill="#21307a" fill-rule="evenodd" d="M312.2 309.6L324.2 309.6L336.1 309.6L348.1 309.6L360.0 309.6L372.0 309.6L383.9 309.6L395.9 309.6L401.8 309.6L404.8 323.0L405.8 336.4L407.8 343.2L409.8 336.4L409.8 323.0L410.8 309.6L419.7 309.6L431.7 309.6L443.6 309.6L455.6 309.6L467.5 309.6L479.5 309.6L491.4 309.6L503.4 309.6L515.3 309.6L515.3 323.0L515.3 336.4L515.3 349.9L515.3 363.4L515.3 376.8L515.3 388.7L511.9 390.2L503.4 390.2L491.4 390.2L479.5 390.2L467.5 390.2L455.6 390.2L443.6 390.2L431.7 390.2L419.7 390.2L410.8 390.2L409.3 376.8L407.8 370.1L406.6 376.8L405.8 390.2L395.9 390.2L383.9 390.2L372.0 390.2L360.0 390.2L348.1 390.2L336.1 390.2L324.2 390.2L312.2 390.2L306.3 390.2L300.3 383.5L300.3 376.8L300.3 363.4L300.3 349.9L300.3 336.4L300.3 323.0L300.3 309.6ZM308.3 363.4L311.2 376.8L312.2 378.0L312.6 376.8L314.0 363.4L312.2 358.9Z"/>
<path fill="#0a4f8f" fill-rule="evenodd" d="M312.2 316.3L324.2 312.9L336.1 316.3L342.1 323.0L336.1 329.7L330.2 336.4L324.2 343.2L318.2 336.4L312.2 329.7L306.3 323.0ZM395.9 316.3L398.8 323.0L401.8 336.4L406.3 349.9L404.8 363.4L404.2 376.8L401.8 390.2L395.9 390.2L383.9 390.2L372.0 390.2L366.0 390.2L366.0 376.8L366.0 363.4L366.0 349.9L360.0 343.2L354.1 336.4L360.0 329.7L372.0 329.7L383.9 329.7L389.9 323.0ZM419.7 309.6L431.7 309.6L443.6 309.6L455.6 309.6L467.5 309.6L473.5 309.6L479.5 312.9L485.4 309.6L491.4 309.6L503.4 309.6L509.3 309.6L503.4 316.3L497.4 323.0L503.4 329.7L515.3 329.7L515.3 336.4L515.3 349.9L515.3 363.4L515.3 376.8L515.3 380.8L503.4 383.5L497.4 390.2L491.4 390.2L479.5 390.2L467.5 390.2L455.6 390.2L443.6 390.2L431.7 390.2L419.7 390.2L416.8 390.2L412.3 376.8L409.0 363.4L409.3 349.9L413.8 336.4L413.8 323.0L416.8 309.6ZM336.1 343.2L348.1 343.2L354.1 349.9L354.1 363.4L357.0 376.8L354.1 390.2L348.1 390.2L336.1 390.2L330.2 390.2L324.2 383.5L320.3 376.8L320.8 363.4L324.2 356.6L330.2 349.9Z"/>
<path fill="#0787ad" fill-rule="evenodd" d="M324.2 319.6L330.2 323.0L324.2 329.7L318.2 323.0ZM419.7 316.3L425.7 323.0L431.7 329.7L437.7 323.0L443.6 316.3L455.6 312.9L467.5 312.9L479.5 319.6L485.4 323.0L485.4 336.4L491.4 343.2L497.4 349.9L497.4 363.4L497.4 376.8L491.4 383.5L479.5 383.5L473.5 390.2L467.5 390.2L455.6 390.2L443.6 390.2L431.7 390.2L425.7 390.2L419.7 386.9L415.3 376.8L411.4 363.4L412.3 349.9L417.8 336.4L417.8 323.0ZM395.9 329.7L397.8 336.4L403.3 349.9L398.8 363.4L401.8 376.8L397.8 390.2L395.9 390.2L383.9 390.2L377.9 390.2L377.9 376.8L383.9 370.1L389.9 363.4L383.9 356.6L377.9 349.9L383.9 343.2L389.9 336.4ZM348.1 370.1L351.1 376.8L348.1 383.5L342.1 376.8Z"/>
<path fill="#08b5a0" fill-rule="evenodd" d="M455.6 319.6L467.5 319.6L473.5 323.0L473.5 336.4L476.5 349.9L476.5 363.4L473.5 376.8L467.5 383.5L455.6 386.9L443.6 386.9L431.7 383.5L419.7 380.2L418.3 376.8L413.8 363.4L415.3 349.9L419.7 339.8L431.7 339.8L437.7 336.4L443.6 329.7L449.6 323.0ZM429.7 363.4L431.7 370.1L433.7 363.4L431.7 360.0ZM395.9 339.8L400.3 349.9L395.9 360.0L386.9 349.9ZM395.9 366.7L399.4 376.8L395.9 386.9L386.9 376.8Z"/>
<path fill="#3cb46b" fill-rule="evenodd" d="M455.6 329.7L461.5 336.4L467.5 343.2L470.5 349.9L470.5 363.4L467.5 370.1L461.5 376.8L455.6 380.2L443.6 380.2L437.7 376.8L437.7 363.4L431.7 353.3L425.7 363.4L419.7 373.4L416.2 363.4L418.3 349.9L419.7 346.5L431.7 346.5L443.6 339.8L449.6 336.4ZM395.9 346.5L397.3 349.9L395.9 353.3L392.9 349.9ZM395.9 373.4L397.0 376.8L395.9 380.2L392.9 376.8Z"/>
<path fill="#6cc070" fill-rule="evenodd" d="M443.6 346.5L455.6 338.1L466.0 349.9L464.5 363.4L455.6 373.4L443.6 370.1L441.6 363.4L437.7 349.9ZM419.7 356.6L421.7 363.4L419.7 366.7L418.5 363.4Z"/>
<path fill="#8ecb72" fill-rule="evenodd" d="M455.6 341.5L463.0 349.9L458.6 363.4L455.6 366.7L449.6 363.4L445.6 349.9Z"/>
<path fill="#b2d46a" fill-rule="evenodd" d="M455.6 344.9L460.1 349.9L455.6 360.0L449.6 349.9Z"/>
<path fill="#d3df50" fill-rule="evenodd" d="M455.6 348.2L457.1 349.9L455.6 353.3L453.6 349.9Z"/>
</g>
<g clip-path="url(#cac)" fill="none" stroke="#1a1a1a" stroke-width="1.1" stroke-linejoin="round">
<polyline points="420.9,360.1 431.0,365.5 443.4,361.6 455.0,359.7 468.1,365.9 479.7,369.5 491.3,375.0 511.7,376.5 491.3,377.5 476.8,381.2 462.3,384.1 447.8,387.0 433.3,389.2 421.7,387.7 415.1,379.8 415.1,371.0 420.9,360.1"/>
<polyline points="434.0,376.5 443.4,371.3 455.0,376.1 446.3,379.7 437.6,378.6 434.0,376.5"/>
</g>
<rect x="300.30" y="309.55" width="215.00" height="80.70" fill="none" stroke="#2a2a2a" stroke-width="1.2"/>
<path d="M296.90 390.25H300.30M296.90 363.35H300.30M296.90 336.45H300.30M296.90 309.55H300.30M321.80 390.25V393.85M364.80 390.25V393.85M407.80 390.25V393.85M450.80 390.25V393.85M493.80 390.25V393.85" stroke="#2a2a2a" stroke-width="1" fill="none"/>
<g font-family="Liberation Serif, serif" font-size="13.6" fill="#222">
<text x="293.30" y="394.85" text-anchor="end">0</text>
<text x="293.30" y="367.95" text-anchor="end">2</text>
<text x="293.30" y="341.05" text-anchor="end">4</text>
<text x="293.30" y="314.15" text-anchor="end">6</text>
<text x="321.80" y="405.85" text-anchor="middle">−0.04</text>
<text x="364.80" y="405.85" text-anchor="middle">−0.02</text>
<text x="407.80" y="405.85" text-anchor="middle">0</text>
<text x="450.80" y="405.85" text-anchor="middle">0.02</text>
<text x="493.80" y="405.85" text-anchor="middle">0.04</text>
</g>
<text x="408.30" y="415.65" text-anchor="middle" font-family="Liberation Serif, serif" font-size="13.6" fill="#1a1a1a" stroke="#1a1a1a" stroke-width="0.35" letter-spacing="1.0" textLength="167" lengthAdjust="spacingAndGlyphs">Frequency(cycles/day)</text>
<text transform="translate(280.70 350.40) rotate(-90)" text-anchor="middle" font-family="Liberation Serif, serif" font-size="15.2" fill="#1a1a1a" stroke="#1a1a1a" stroke-width="0.35" letter-spacing="1.2" textLength="103" lengthAdjust="spacingAndGlyphs">Wavenumber</text>
</g>
<g>
<rect x="569.10" y="309.55" width="214.60" height="80.70" fill="#fff"/>
<g clip-path="url(#cad)">
<path fill="#21307a" fill-rule="evenodd" d="M581.0 309.6L592.9 309.6L604.9 309.6L616.8 309.6L628.7 309.6L640.6 309.6L652.6 309.6L664.5 309.6L670.4 309.6L673.4 323.0L674.4 336.4L676.4 343.2L677.6 336.4L677.6 323.0L677.9 309.6L688.3 309.6L700.2 309.6L712.2 309.6L724.1 309.6L736.0 309.6L747.9 309.6L759.9 309.6L771.8 309.6L783.7 309.6L783.7 323.0L783.7 336.4L783.7 349.9L783.7 363.4L783.7 376.8L783.7 390.2L771.8 390.2L759.9 390.2L747.9 390.2L736.0 390.2L724.1 390.2L712.2 390.2L700.2 390.2L688.3 390.2L679.4 390.2L678.4 376.8L676.4 370.1L673.4 376.8L673.4 390.2L664.5 390.2L652.6 390.2L640.6 390.2L628.7 390.2L616.8 390.2L604.9 390.2L592.9 390.2L581.0 390.2L569.1 390.2L569.1 376.8L569.1 363.4L569.1 349.9L569.1 336.4L569.1 323.0L569.1 309.6Z"/>
<path fill="#0a4f8f" fill-rule="evenodd" d="M575.1 323.0L569.1 329.7L569.1 323.0L569.1 316.3ZM592.9 309.6L604.9 309.6L616.8 309.6L628.7 309.6L634.7 309.6L640.6 312.9L646.6 309.6L652.6 309.6L658.5 309.6L664.5 316.3L667.5 323.0L670.4 336.4L674.4 349.9L674.9 363.4L667.5 376.8L667.5 390.2L664.5 390.2L652.6 390.2L640.6 390.2L628.7 390.2L616.8 390.2L610.8 390.2L604.9 383.5L598.9 376.8L598.9 363.4L604.9 356.6L610.8 363.4L616.8 370.1L628.7 370.1L634.7 363.4L628.7 356.6L616.8 356.6L610.8 349.9L610.8 336.4L616.8 329.7L622.8 336.4L628.7 343.2L640.6 339.8L643.6 336.4L640.6 333.1L628.7 329.7L622.8 323.0L616.8 316.3L610.8 323.0L604.9 329.7L598.9 323.0L592.9 316.3L587.0 309.6ZM688.3 309.6L700.2 309.6L706.2 309.6L706.2 323.0L712.2 329.7L718.1 336.4L718.1 349.9L724.1 353.3L730.1 349.9L730.1 336.4L736.0 329.7L747.9 329.7L753.9 336.4L753.9 349.9L759.9 356.6L771.8 356.6L777.7 363.4L777.7 376.8L771.8 383.5L759.9 383.5L753.9 390.2L747.9 390.2L736.0 390.2L724.1 390.2L712.2 390.2L700.2 390.2L688.3 390.2L685.3 390.2L682.4 376.8L677.9 363.4L677.9 349.9L680.0 336.4L680.0 323.0L680.9 309.6ZM581.0 329.7L592.9 329.7L598.9 336.4L598.9 349.9L592.9 356.6L581.0 356.6L569.1 356.6L569.1 349.9L569.1 343.2L575.1 336.4Z"/>
<path fill="#0787ad" fill-rule="evenodd" d="M640.6 319.6L646.6 323.0L640.6 326.4L634.7 323.0ZM688.3 309.6L697.3 309.6L698.3 323.0L698.3 336.4L700.2 343.2L706.2 349.9L712.2 356.6L724.1 360.0L730.1 363.4L736.0 370.1L747.9 370.1L753.9 376.8L747.9 383.5L736.0 383.5L724.1 383.5L718.1 390.2L712.2 390.2L706.2 390.2L700.2 383.5L688.3 383.5L686.3 376.8L680.9 363.4L680.9 349.9L682.4 336.4L682.4 323.0L683.9 309.6ZM652.6 329.7L664.5 329.7L666.5 336.4L670.4 349.9L671.9 363.4L664.5 374.6L652.6 370.1L646.6 363.4L640.6 356.6L634.7 349.9L640.6 346.5L649.6 336.4ZM640.6 370.1L646.6 376.8L646.6 390.2L640.6 390.2L634.7 390.2L634.7 376.8Z"/>
<path fill="#08b5a0" fill-rule="evenodd" d="M688.3 309.6L691.3 309.6L694.3 323.0L694.3 336.4L697.3 349.9L697.3 363.4L688.3 373.4L683.9 363.4L683.9 349.9L684.7 336.4L684.7 323.0L686.8 309.6ZM664.5 343.2L666.5 349.9L668.9 363.4L664.5 370.1L655.5 363.4L658.5 349.9Z"/>
<path fill="#3cb46b" fill-rule="evenodd" d="M688.3 316.3L690.3 323.0L690.3 336.4L691.3 349.9L691.3 363.4L688.3 366.7L686.8 363.4L686.8 349.9L687.1 336.4L687.1 323.0ZM664.5 356.6L666.0 363.4L664.5 365.6L661.5 363.4Z"/>
</g>
<rect x="569.10" y="309.55" width="214.60" height="80.70" fill="none" stroke="#2a2a2a" stroke-width="1.2"/>
<path d="M565.70 390.25H569.10M565.70 363.35H569.10M565.70 336.45H569.10M565.70 309.55H569.10M590.56 390.25V393.85M633.48 390.25V393.85M676.40 390.25V393.85M719.32 390.25V393.85M762.24 390.25V393.85" stroke="#2a2a2a" stroke-width="1" fill="none"/>
<g font-family="Liberation Serif, serif" font-size="13.6" fill="#222">
<text x="562.10" y="394.85" text-anchor="end">0</text>
<text x="562.10" y="367.95" text-anchor="end">2</text>
<text x="562.10" y="341.05" text-anchor="end">4</text>
<text x="562.10" y="314.15" text-anchor="end">6</text>
<text x="590.56" y="405.85" text-anchor="middle">−0.04</text>
<text x="633.48" y="405.85" text-anchor="middle">−0.02</text>
<text x="676.40" y="405.85" text-anchor="middle">0</text>
<text x="719.32" y="405.85" text-anchor="middle">0.02</text>
<text x="762.24" y="405.85" text-anchor="middle">0.04</text>
</g>
<text x="676.90" y="415.65" text-anchor="middle" font-family="Liberation Serif, serif" font-size="13.6" fill="#1a1a1a" stroke="#1a1a1a" stroke-width="0.35" letter-spacing="1.0" textLength="167" lengthAdjust="spacingAndGlyphs">Frequency(cycles/day)</text>
<text transform="translate(549.50 350.40) rotate(-90)" text-anchor="middle" font-family="Liberation Serif, serif" font-size="15.2" fill="#1a1a1a" stroke="#1a1a1a" stroke-width="0.35" letter-spacing="1.2" textLength="103" lengthAdjust="spacingAndGlyphs">Wavenumber</text>
</g>
<g>
<rect x="31.55" y="453.40" width="215.00" height="80.70" fill="#fff"/>
<g clip-path="url(#cae)">
<path fill="#21307a" fill-rule="evenodd" d="M43.5 453.4L55.4 453.4L67.4 453.4L79.3 453.4L91.3 453.4L103.2 453.4L115.2 453.4L127.1 453.4L136.1 453.4L137.6 466.8L139.1 473.6L139.9 466.8L140.5 453.4L151.0 453.4L162.9 453.4L174.9 453.4L186.8 453.4L198.8 453.4L210.7 453.4L222.7 453.4L234.6 453.4L246.6 453.4L246.6 466.8L246.6 480.3L246.6 493.8L246.6 507.2L246.6 520.6L246.6 534.1L234.6 534.1L222.7 534.1L210.7 534.1L198.8 534.1L186.8 534.1L174.9 534.1L162.9 534.1L151.0 534.1L140.5 534.1L139.8 520.6L139.1 513.9L137.6 520.6L137.6 534.1L127.1 534.1L115.2 534.1L103.2 534.1L91.3 534.1L79.3 534.1L67.4 534.1L55.4 534.1L43.5 534.1L31.6 534.1L31.6 520.6L31.6 507.2L31.6 493.8L31.6 480.3L31.6 466.8L31.6 453.4Z"/>
<path fill="#0a4f8f" fill-rule="evenodd" d="M43.5 453.4L55.4 453.4L67.4 453.4L73.4 453.4L73.4 466.8L76.3 480.3L79.3 487.0L85.3 480.3L91.3 473.6L97.2 466.8L103.2 460.1L115.2 456.8L121.1 453.4L127.1 453.4L130.1 453.4L134.6 466.9L137.6 480.3L137.9 493.8L137.9 507.2L134.6 520.6L134.6 534.1L127.1 534.1L115.2 534.1L103.2 534.1L91.3 534.1L79.3 534.1L67.4 534.1L55.4 534.1L43.5 534.1L31.6 534.1L31.6 520.6L31.6 513.9L43.5 510.6L55.4 510.6L67.4 510.6L73.4 507.2L67.4 500.5L55.4 500.5L43.5 500.5L37.5 493.8L31.6 487.0L31.6 480.3L31.6 473.6L37.5 466.8L31.6 460.1L31.6 453.4ZM49.5 466.8L55.4 470.2L61.4 466.8L55.4 460.1ZM151.0 453.4L162.9 453.4L174.9 453.4L186.8 453.4L198.8 453.4L210.7 453.4L216.7 453.4L216.7 466.8L210.7 473.6L207.7 480.3L207.7 493.8L210.7 500.5L213.7 493.8L216.7 480.3L222.7 473.6L234.6 473.6L246.6 473.6L246.6 480.3L246.6 493.8L246.6 500.5L240.6 507.2L234.6 513.9L228.6 520.6L222.7 527.4L216.7 534.1L210.7 534.1L198.8 534.1L186.8 534.1L174.9 534.1L162.9 534.1L151.0 534.1L143.5 534.1L141.3 520.6L139.5 507.2L139.8 493.8L139.7 480.3L141.6 466.8L143.5 453.4ZM196.8 466.8L198.8 470.2L204.7 466.8L198.8 460.1Z"/>
<path fill="#0787ad" fill-rule="evenodd" d="M115.2 463.5L127.1 456.8L131.6 466.9L134.6 480.3L135.5 493.8L135.5 507.2L131.6 520.6L131.6 534.1L127.1 534.1L115.2 534.1L103.2 534.1L91.3 534.1L79.3 534.1L73.4 534.1L67.4 527.4L55.4 527.4L43.5 527.4L37.5 520.6L43.5 517.3L55.4 517.3L67.4 517.3L79.3 513.9L85.3 507.2L91.3 500.5L97.2 493.8L103.2 487.0L109.2 480.3L109.2 466.8ZM151.0 453.4L162.9 453.4L174.9 453.4L186.8 453.4L195.8 453.4L192.8 466.8L198.8 476.9L201.8 480.3L201.8 493.8L204.7 507.2L204.7 520.6L204.7 534.1L198.8 534.1L186.8 534.1L174.9 534.1L162.9 534.1L151.0 534.1L146.5 534.1L142.8 520.6L140.5 507.2L141.3 493.8L141.0 480.3L143.3 466.8L146.5 453.4ZM55.4 476.9L67.4 473.6L70.4 480.3L67.4 487.0L55.4 487.0L49.5 480.3ZM222.7 487.0L228.6 493.8L228.6 507.2L222.7 513.9L216.7 507.2L219.7 493.8Z"/>
<path fill="#08b5a0" fill-rule="evenodd" d="M127.1 463.5L128.6 466.8L131.6 480.3L133.1 493.8L133.1 507.2L128.6 520.6L128.6 534.1L127.1 534.1L115.2 534.1L109.2 534.1L103.2 527.4L91.3 527.4L85.3 520.6L91.3 513.9L103.2 513.9L109.2 507.2L109.2 493.8L115.2 487.0L118.1 480.3L121.1 466.8ZM151.0 453.4L162.9 453.4L174.9 453.4L186.8 453.4L189.8 453.4L188.8 466.8L195.8 480.3L195.8 493.8L195.8 507.2L186.8 517.3L185.3 520.6L180.9 534.1L174.9 534.1L162.9 534.1L151.0 534.1L149.5 534.1L144.3 520.6L141.5 507.2L142.8 493.8L142.4 480.3L145.0 466.8L149.5 453.4Z"/>
<path fill="#3cb46b" fill-rule="evenodd" d="M151.0 455.6L157.0 453.4L162.9 453.4L174.9 453.4L180.9 453.4L180.9 466.8L186.8 473.6L189.8 480.3L189.8 493.8L189.8 507.2L186.8 510.6L182.3 520.6L174.9 531.9L162.9 531.9L151.0 532.4L145.8 520.6L142.5 507.2L144.3 493.8L143.7 480.3L146.7 466.8ZM127.1 473.6L128.6 480.3L130.7 493.8L130.7 507.2L127.1 517.3L118.1 507.2L118.1 493.8L124.1 480.3Z"/>
<path fill="#6cc070" fill-rule="evenodd" d="M151.0 460.1L162.9 460.1L168.9 466.8L174.9 473.6L180.9 480.3L183.8 493.8L185.3 507.2L179.4 520.6L174.9 527.4L162.9 527.4L151.0 529.1L147.3 520.6L143.5 507.2L145.8 493.8L145.0 480.3L148.4 466.8ZM127.1 487.0L128.3 493.8L128.3 507.2L127.1 510.6L124.1 507.2L124.1 493.8Z"/>
<path fill="#8ecb72" fill-rule="evenodd" d="M151.0 464.6L157.0 466.8L162.9 470.2L171.9 480.3L174.9 487.0L177.9 493.8L182.3 507.2L176.4 520.6L174.9 522.9L162.9 522.9L151.0 525.7L148.8 520.6L144.5 507.2L147.3 493.8L146.3 480.3L150.1 466.9Z"/>
<path fill="#b2d46a" fill-rule="evenodd" d="M151.0 469.1L162.9 476.9L165.9 480.3L168.9 493.8L174.9 497.1L179.4 507.2L174.9 517.3L162.9 513.9L157.0 520.6L151.0 522.3L150.2 520.6L145.5 507.2L148.8 493.8L147.7 480.3Z"/>
<path fill="#d3df50" fill-rule="evenodd" d="M151.0 473.6L160.0 480.3L157.0 493.8L161.7 507.2L151.0 519.3L146.5 507.2L150.2 493.8L149.0 480.3ZM174.9 503.8L176.4 507.2L174.9 510.6L168.9 507.2Z"/>
<path fill="#cab626" fill-rule="evenodd" d="M151.0 478.1L154.0 480.3L151.0 487.0L150.3 480.3ZM151.0 495.4L159.4 507.2L151.0 516.6L147.5 507.2Z"/>
<path fill="#b86b1e" fill-rule="evenodd" d="M151.0 498.8L157.0 507.2L151.0 513.9L148.5 507.2Z"/>
<path fill="#c27727" fill-rule="evenodd" d="M151.0 502.2L154.6 507.2L151.0 511.2L149.5 507.2Z"/>
<path fill="#a3391a" fill-rule="evenodd" d="M151.0 505.5L152.2 507.2L151.0 508.5L150.5 507.2Z"/>
</g>
<g clip-path="url(#cae)" fill="none" stroke="#1a1a1a" stroke-width="1.1" stroke-linejoin="round">
<polyline points="125.6,500.0 131.5,506.8 126.0,515.6 120.1,507.7 125.6,500.0"/>
<polyline points="121.7,534.0 126.0,528.1 128.9,534.0"/>
<polyline points="151.6,496.4 164.7,497.8 177.7,497.1 186.5,503.6 199.6,512.3 211.2,516.7 219.9,520.3 211.2,523.9 196.7,523.9 188.0,518.1 186.5,513.8 185.1,522.5 174.9,529.0 157.5,529.8 147.3,525.4 142.2,515.3 144.4,503.6 151.6,496.4"/>
<polyline points="151.6,503.6 161.8,509.4 174.9,508.3 179.2,513.8 177.8,521.0 166.2,525.4 153.1,525.4 147.3,518.2 148.7,509.4 151.6,503.6"/>
<polyline points="151.6,511.6 157.5,513.8 166.2,520.3 157.5,523.2 150.2,524.0 149.5,518.2 151.6,511.6"/>
</g>
<rect x="31.55" y="453.40" width="215.00" height="80.70" fill="none" stroke="#2a2a2a" stroke-width="1.2"/>
<path d="M28.15 534.10H31.55M28.15 507.20H31.55M28.15 480.30H31.55M28.15 453.40H31.55M53.05 534.10V537.70M96.05 534.10V537.70M139.05 534.10V537.70M182.05 534.10V537.70M225.05 534.10V537.70" stroke="#2a2a2a" stroke-width="1" fill="none"/>
<g font-family="Liberation Serif, serif" font-size="13.6" fill="#222">
<text x="24.55" y="538.70" text-anchor="end">0</text>
<text x="24.55" y="511.80" text-anchor="end">2</text>
<text x="24.55" y="484.90" text-anchor="end">4</text>
<text x="24.55" y="458.00" text-anchor="end">6</text>
<text x="53.05" y="549.70" text-anchor="middle">−0.04</text>
<text x="96.05" y="549.70" text-anchor="middle">−0.02</text>
<text x="139.05" y="549.70" text-anchor="middle">0</text>
<text x="182.05" y="549.70" text-anchor="middle">0.02</text>
<text x="225.05" y="549.70" text-anchor="middle">0.04</text>
</g>
<text x="139.55" y="559.50" text-anchor="middle" font-family="Liberation Serif, serif" font-size="13.6" fill="#1a1a1a" stroke="#1a1a1a" stroke-width="0.35" letter-spacing="1.0" textLength="167" lengthAdjust="spacingAndGlyphs">Frequency(cycles/day)</text>
<text transform="translate(11.95 494.25) rotate(-90)" text-anchor="middle" font-family="Liberation Serif, serif" font-size="15.2" fill="#1a1a1a" stroke="#1a1a1a" stroke-width="0.35" letter-spacing="1.2" textLength="103" lengthAdjust="spacingAndGlyphs">Wavenumber</text>
</g>
<g>
<rect x="300.30" y="453.40" width="215.00" height="80.70" fill="#fff"/>
<g clip-path="url(#caf)">
<path fill="#21307a" fill-rule="evenodd" d="M312.2 453.4L324.2 453.4L336.1 453.4L348.1 453.4L360.0 453.4L372.0 453.4L383.9 453.4L395.9 453.4L404.8 453.4L404.8 466.8L404.8 480.3L406.5 493.8L406.4 507.2L405.8 520.6L404.8 534.1L395.9 534.1L383.9 534.1L372.0 534.1L360.0 534.1L348.1 534.1L336.1 534.1L324.2 534.1L312.2 534.1L300.3 534.1L300.3 520.6L300.3 507.2L300.3 493.8L300.3 480.3L300.3 466.8L300.3 453.4ZM419.7 453.4L431.7 453.4L443.6 453.4L455.6 453.4L467.5 453.4L479.5 453.4L491.4 453.4L503.4 453.4L515.3 453.4L515.3 466.8L515.3 480.3L515.3 493.8L515.3 507.2L515.3 520.6L515.3 534.1L503.4 534.1L491.4 534.1L479.5 534.1L467.5 534.1L455.6 534.1L443.6 534.1L431.7 534.1L419.7 534.1L410.8 534.1L409.3 520.6L409.0 507.2L408.5 493.8L408.8 480.3L409.0 466.8L409.8 453.4Z"/>
<path fill="#0a4f8f" fill-rule="evenodd" d="M312.2 460.1L318.2 453.4L324.2 453.4L336.1 453.4L348.1 453.4L360.0 453.4L372.0 453.4L383.9 453.4L395.9 453.4L398.8 453.4L398.8 466.8L398.8 480.3L402.3 493.8L404.1 507.2L401.8 520.6L398.8 534.1L395.9 534.1L383.9 534.1L377.9 534.1L375.0 520.6L375.0 507.2L372.0 500.5L366.0 507.2L360.0 513.9L354.1 520.6L354.1 534.1L348.1 534.1L336.1 534.1L324.2 534.1L318.2 534.1L318.2 520.6L318.2 507.2L312.2 500.5L300.3 500.5L300.3 493.8L300.3 480.3L300.3 466.8L300.3 460.1ZM330.2 493.8L330.2 507.2L336.1 513.9L342.1 507.2L342.1 493.8L336.1 487.0ZM419.7 453.4L431.7 453.4L443.6 453.4L455.6 453.4L467.5 453.4L473.5 453.4L473.5 466.8L467.5 473.6L461.5 480.3L467.5 487.0L473.5 480.3L479.5 473.6L485.4 480.3L485.4 493.8L491.4 497.1L497.4 493.8L497.4 480.3L503.4 473.6L509.3 480.3L515.3 487.0L515.3 493.8L515.3 507.2L515.3 520.6L515.3 527.4L503.4 527.4L497.4 534.1L491.4 534.1L485.4 534.1L479.5 527.4L473.5 534.1L467.5 534.1L455.6 534.1L443.6 534.1L431.7 534.1L419.7 534.1L416.8 534.1L412.3 520.6L410.9 507.2L411.0 493.8L410.8 480.3L411.4 466.8L413.8 453.4ZM306.3 520.6L300.3 527.4L300.3 520.6L300.3 513.9Z"/>
<path fill="#0787ad" fill-rule="evenodd" d="M360.0 460.1L366.0 466.8L360.0 473.6L354.1 466.8ZM419.7 453.4L425.7 453.4L431.7 460.1L437.7 466.8L443.6 473.6L449.6 480.3L455.6 487.0L461.5 493.8L467.5 500.5L473.5 507.2L473.5 520.6L467.5 527.4L461.5 534.1L455.6 534.1L443.6 534.1L437.7 534.1L431.7 530.7L419.7 530.7L415.3 520.6L412.9 507.2L413.5 493.8L412.8 480.3L413.8 466.8L417.8 453.4ZM455.6 460.1L461.5 466.8L455.6 473.6L449.6 466.8ZM312.2 473.6L318.2 480.3L312.2 487.0L306.3 480.3ZM383.9 473.6L389.9 480.3L395.9 487.0L398.0 493.8L401.7 507.2L397.8 520.6L395.9 527.4L383.9 527.4L380.9 520.6L380.9 507.2L377.9 493.8L377.9 480.3ZM491.4 503.8L497.4 507.2L497.4 520.6L491.4 527.4L485.4 520.6L485.4 507.2Z"/>
<path fill="#08b5a0" fill-rule="evenodd" d="M419.7 456.8L428.7 466.8L431.7 473.6L437.7 480.3L437.7 493.8L440.6 507.2L437.7 520.6L431.7 524.0L419.7 524.0L418.3 520.6L414.8 507.2L416.0 493.8L414.8 480.3L416.2 466.8ZM395.9 497.1L399.4 507.2L395.9 517.3L386.9 507.2ZM455.6 513.9L461.5 520.6L455.6 527.4L449.6 520.6Z"/>
<path fill="#3cb46b" fill-rule="evenodd" d="M419.7 463.5L422.7 466.8L428.7 480.3L425.7 493.8L431.7 500.5L434.7 507.2L431.7 513.9L419.7 517.3L416.8 507.2L418.5 493.8L416.8 480.3L418.5 466.8ZM395.9 503.8L397.0 507.2L395.9 510.6L392.9 507.2Z"/>
<path fill="#6cc070" fill-rule="evenodd" d="M419.7 473.6L422.7 480.3L419.7 487.0L418.7 480.3ZM419.7 500.5L425.7 507.2L419.7 510.6L418.8 507.2Z"/>
</g>
<g clip-path="url(#caf)" fill="none" stroke="#1a1a1a" stroke-width="1.1" stroke-linejoin="round">
<polyline points="392.9,534.1 394.8,528.9 396.7,534.1"/>
<polyline points="418.3,533.9 416.8,519.4 417.5,510.7 421.8,503.4 429.1,504.9 437.1,512.1 444.3,516.8 457.4,516.2 467.6,518.6 479.2,516.7 493.7,517.2 503.9,520.5 493.7,522.0 479.2,524.4 467.6,521.5 454.5,525.5 442.9,524.5 432.8,528.1 424.1,533.9"/>
</g>
<rect x="300.30" y="453.40" width="215.00" height="80.70" fill="none" stroke="#2a2a2a" stroke-width="1.2"/>
<path d="M296.90 534.10H300.30M296.90 507.20H300.30M296.90 480.30H300.30M296.90 453.40H300.30M321.80 534.10V537.70M364.80 534.10V537.70M407.80 534.10V537.70M450.80 534.10V537.70M493.80 534.10V537.70" stroke="#2a2a2a" stroke-width="1" fill="none"/>
<g font-family="Liberation Serif, serif" font-size="13.6" fill="#222">
<text x="293.30" y="538.70" text-anchor="end">0</text>
<text x="293.30" y="511.80" text-anchor="end">2</text>
<text x="293.30" y="484.90" text-anchor="end">4</text>
<text x="293.30" y="458.00" text-anchor="end">6</text>
<text x="321.80" y="549.70" text-anchor="middle">−0.04</text>
<text x="364.80" y="549.70" text-anchor="middle">−0.02</text>
<text x="407.80" y="549.70" text-anchor="middle">0</text>
<text x="450.80" y="549.70" text-anchor="middle">0.02</text>
<text x="493.80" y="549.70" text-anchor="middle">0.04</text>
</g>
<text x="408.30" y="559.50" text-anchor="middle" font-family="Liberation Serif, serif" font-size="13.6" fill="#1a1a1a" stroke="#1a1a1a" stroke-width="0.35" letter-spacing="1.0" textLength="167" lengthAdjust="spacingAndGlyphs">Frequency(cycles/day)</text>
<text transform="translate(280.70 494.25) rotate(-90)" text-anchor="middle" font-family="Liberation Serif, serif" font-size="15.2" fill="#1a1a1a" stroke="#1a1a1a" stroke-width="0.35" letter-spacing="1.2" textLength="103" lengthAdjust="spacingAndGlyphs">Wavenumber</text>
</g>
<g>
<rect x="569.10" y="453.40" width="214.60" height="80.70" fill="#fff"/>
<g clip-path="url(#cag)">
<path fill="#21307a" fill-rule="evenodd" d="M581.0 453.4L592.9 453.4L604.9 453.4L616.8 453.4L628.7 453.4L640.6 453.4L652.6 453.4L664.5 453.4L674.9 453.4L676.4 460.1L678.4 453.4L688.3 453.4L700.2 453.4L712.2 453.4L724.1 453.4L736.0 453.4L747.9 453.4L759.9 453.4L771.8 453.4L783.7 453.4L783.7 466.8L783.7 480.3L783.7 493.8L783.7 507.2L783.7 520.6L783.7 534.1L771.8 534.1L759.9 534.1L747.9 534.1L736.0 534.1L724.1 534.1L712.2 534.1L700.2 534.1L688.3 534.1L679.4 534.1L679.4 520.6L677.9 507.2L677.6 493.8L676.4 487.0L674.9 493.8L674.9 507.2L674.4 520.6L674.4 534.1L664.5 534.1L652.6 534.1L640.6 534.1L628.7 534.1L616.8 534.1L604.9 534.1L592.9 534.1L581.0 534.1L569.1 534.1L569.1 520.6L569.1 507.2L569.1 493.8L569.1 480.3L569.1 466.8L569.1 453.4Z"/>
<path fill="#0a4f8f" fill-rule="evenodd" d="M581.0 453.4L590.0 453.4L587.0 466.8L592.9 470.2L595.9 466.8L595.9 453.4L604.9 453.4L616.8 453.4L628.7 453.4L640.6 453.4L652.6 453.4L664.5 453.4L671.9 453.4L674.4 466.8L674.4 480.3L671.9 493.8L671.9 507.2L670.4 520.6L670.4 534.1L664.5 534.1L655.5 534.1L652.6 527.4L646.6 534.1L640.6 534.1L628.7 534.1L616.8 534.1L604.9 534.1L598.9 534.1L598.9 520.6L598.9 507.2L592.9 500.5L590.0 507.2L587.0 520.6L581.0 527.4L575.1 520.6L572.1 507.2L569.1 500.5L569.1 493.8L569.1 480.3L569.1 466.8L569.1 453.4ZM610.8 493.8L616.8 500.5L622.8 507.2L628.7 510.6L634.7 507.2L628.7 500.5L622.8 493.8L616.8 490.4ZM688.3 453.4L700.2 453.4L712.2 453.4L724.1 453.4L736.0 453.4L747.9 453.4L753.9 453.4L756.9 466.8L759.9 473.6L765.8 480.3L771.8 487.0L777.7 480.3L777.7 466.8L777.7 453.4L783.7 453.4L783.7 466.8L783.7 480.3L783.7 493.8L783.7 507.2L783.7 520.6L783.7 534.1L771.8 534.1L759.9 534.1L747.9 534.1L736.0 534.1L724.1 534.1L712.2 534.1L706.2 534.1L700.2 530.7L694.3 534.1L688.3 534.1L685.3 534.1L685.3 520.6L680.9 507.2L680.0 493.8L678.4 480.3L678.4 466.8L682.4 453.4Z"/>
<path fill="#0787ad" fill-rule="evenodd" d="M581.0 453.4L584.0 453.4L581.0 460.1L575.1 453.4ZM604.9 453.4L610.8 453.4L610.8 466.8L616.8 473.6L622.8 466.8L622.8 453.4L628.7 453.4L634.7 453.4L640.6 456.8L646.6 453.4L652.6 453.4L664.5 453.4L668.9 453.4L670.4 466.8L670.4 480.3L668.9 493.8L668.9 507.2L666.5 520.6L666.5 534.1L664.5 534.1L661.5 534.1L658.5 520.6L652.6 513.9L646.6 507.2L646.6 493.8L640.6 490.4L628.7 487.0L616.8 483.7L604.9 487.0L592.9 487.0L587.0 480.3L592.9 476.9L601.9 466.8L601.9 453.4ZM688.3 453.4L700.2 453.4L712.2 453.4L718.1 453.4L718.1 466.8L712.2 473.6L706.2 480.3L712.2 483.7L724.1 482.5L730.1 480.3L736.0 473.6L742.0 466.8L747.9 460.1L750.9 466.8L753.9 480.3L759.9 487.0L765.8 493.8L771.8 500.5L777.7 493.8L783.7 487.0L783.7 493.8L783.7 507.2L783.7 520.6L783.7 534.1L771.8 534.1L759.9 534.1L747.9 534.1L736.0 534.1L730.1 534.1L724.1 530.7L712.2 530.7L700.2 524.0L694.3 520.6L688.3 517.3L683.9 507.2L682.4 493.8L682.4 480.3L682.4 466.8L686.3 453.4ZM581.0 500.5L584.0 507.2L581.0 513.9L578.0 507.2ZM628.7 517.3L640.6 513.9L646.6 520.6L640.6 527.4L628.7 527.4L622.8 520.6Z"/>
<path fill="#08b5a0" fill-rule="evenodd" d="M640.6 463.5L646.6 466.8L646.6 480.3L640.6 483.7L634.7 480.3L634.7 466.8ZM664.5 453.4L666.0 453.4L666.5 466.8L666.5 480.3L666.0 493.8L666.0 507.2L664.5 513.9L658.5 507.2L658.5 493.8L658.5 480.3L658.5 466.8L658.5 453.4ZM688.3 460.1L694.3 466.8L694.3 480.3L700.2 487.0L712.2 490.4L724.1 487.0L736.0 487.0L747.9 487.0L753.9 493.8L753.9 507.2L759.9 509.4L771.8 510.6L783.7 513.9L783.7 520.6L783.7 527.4L771.8 530.7L759.9 531.9L747.9 530.7L736.0 530.7L724.1 524.0L712.2 524.0L706.2 520.6L700.2 513.9L688.3 510.6L686.8 507.2L684.7 493.8L686.3 480.3L686.3 466.8Z"/>
<path fill="#3cb46b" fill-rule="evenodd" d="M688.3 487.0L694.3 493.8L688.3 500.5L687.1 493.8ZM724.1 491.5L730.1 493.8L724.1 500.5L718.1 493.8ZM736.0 513.9L747.9 513.9L759.9 513.9L771.8 517.3L777.7 520.6L771.8 524.0L759.9 527.4L747.9 524.0L736.0 524.0L730.1 520.6Z"/>
<path fill="#6cc070" fill-rule="evenodd" d="M759.9 518.4L765.8 520.6L759.9 522.9L753.9 520.6Z"/>
</g>
<g clip-path="url(#cag)" fill="none" stroke="#1a1a1a" stroke-width="1.1" stroke-linejoin="round">
<polyline points="686.5,520.6 691.5,511.9 700.2,506.8 711.9,509.0 723.5,508.3 736.6,510.4 746.7,514.8 759.8,510.4 771.4,514.8 779.4,520.3 771.5,523.5 759.9,526.4 748.2,523.5 736.6,529.0 723.6,528.6 701.8,528.6 690.2,527.9 686.5,520.6"/>
<polyline points="730.8,520.3 737.3,520.3"/>
</g>
<rect x="569.10" y="453.40" width="214.60" height="80.70" fill="none" stroke="#2a2a2a" stroke-width="1.2"/>
<path d="M565.70 534.10H569.10M565.70 507.20H569.10M565.70 480.30H569.10M565.70 453.40H569.10M590.56 534.10V537.70M633.48 534.10V537.70M676.40 534.10V537.70M719.32 534.10V537.70M762.24 534.10V537.70" stroke="#2a2a2a" stroke-width="1" fill="none"/>
<g font-family="Liberation Serif, serif" font-size="13.6" fill="#222">
<text x="562.10" y="538.70" text-anchor="end">0</text>
<text x="562.10" y="511.80" text-anchor="end">2</text>
<text x="562.10" y="484.90" text-anchor="end">4</text>
<text x="562.10" y="458.00" text-anchor="end">6</text>
<text x="590.56" y="549.70" text-anchor="middle">−0.04</text>
<text x="633.48" y="549.70" text-anchor="middle">−0.02</text>
<text x="676.40" y="549.70" text-anchor="middle">0</text>
<text x="719.32" y="549.70" text-anchor="middle">0.02</text>
<text x="762.24" y="549.70" text-anchor="middle">0.04</text>
</g>
<text x="676.90" y="559.50" text-anchor="middle" font-family="Liberation Serif, serif" font-size="13.6" fill="#1a1a1a" stroke="#1a1a1a" stroke-width="0.35" letter-spacing="1.0" textLength="167" lengthAdjust="spacingAndGlyphs">Frequency(cycles/day)</text>
<text transform="translate(549.50 494.25) rotate(-90)" text-anchor="middle" font-family="Liberation Serif, serif" font-size="15.2" fill="#1a1a1a" stroke="#1a1a1a" stroke-width="0.35" letter-spacing="1.2" textLength="103" lengthAdjust="spacingAndGlyphs">Wavenumber</text>
</g>
<g>
<rect x="31.55" y="597.50" width="215.00" height="80.70" fill="#fff"/>
<g clip-path="url(#cah)">
<path fill="#21307a" fill-rule="evenodd" d="M33.5 611.0L42.4 624.4L43.5 626.3L44.6 624.4L50.1 611.0L46.9 597.5L55.4 597.5L67.4 597.5L79.3 597.5L91.3 597.5L103.2 597.5L115.2 597.5L127.1 597.5L131.1 597.5L134.3 611.0L134.3 624.4L135.6 637.9L136.4 651.3L135.6 664.8L134.3 678.2L127.1 678.2L115.2 678.2L103.2 678.2L91.3 678.2L79.3 678.2L67.4 678.2L70.8 664.8L69.4 651.3L67.4 649.1L55.4 644.6L43.5 642.9L31.6 637.9L31.6 637.9L31.6 624.4L31.6 611.0L31.6 608.7ZM151.0 597.5L162.9 597.5L174.9 597.5L186.8 597.5L198.8 597.5L210.7 597.5L212.7 597.5L210.7 611.0L210.7 611.0L210.7 611.0L214.1 624.4L210.7 633.4L208.7 637.9L210.7 640.1L222.7 643.8L234.6 649.1L236.6 651.3L238.0 664.8L234.6 668.6L222.7 672.2L215.8 678.2L210.7 678.2L198.8 678.2L186.8 678.2L174.9 678.2L162.9 678.2L151.0 678.2L147.0 678.2L143.8 664.8L142.5 651.3L142.5 637.9L141.7 624.4L143.8 611.0L143.8 597.5ZM196.8 664.8L198.8 667.0L200.8 664.8L198.8 662.5Z"/>
<path fill="#0a4f8f" fill-rule="evenodd" d="M79.3 604.2L85.3 611.0L85.3 624.4L79.3 631.1L73.4 624.4L73.4 611.0ZM127.1 604.2L129.5 611.0L129.5 624.4L132.2 637.8L133.7 651.3L132.2 664.8L129.5 678.2L127.1 678.2L115.2 678.2L103.2 678.2L97.2 678.2L103.2 671.5L109.2 664.8L103.2 658.0L97.2 651.3L97.2 637.9L97.2 624.4L103.2 617.7L109.2 624.4L115.2 631.1L121.1 624.4L121.1 611.0ZM151.0 597.5L157.0 597.5L162.9 604.2L174.9 604.2L180.9 611.0L180.9 624.4L186.8 631.1L192.8 637.9L192.8 651.3L186.8 658.0L180.9 664.8L180.9 678.2L174.9 678.2L162.9 678.2L157.0 678.2L151.0 671.5L148.6 664.8L145.9 651.3L145.9 637.8L144.4 624.4L148.6 611.0L148.6 597.5Z"/>
<path fill="#0787ad" fill-rule="evenodd" d="M151.0 614.3L160.0 624.4L157.0 637.9L157.0 651.3L151.0 658.0L149.3 651.3L149.3 637.9L147.0 624.4ZM127.1 631.1L128.8 637.9L131.1 651.3L128.8 664.8L127.1 671.5L121.1 664.8L118.1 651.3L121.1 637.9Z"/>
<path fill="#08b5a0" fill-rule="evenodd" d="M151.0 621.0L154.0 624.4L151.0 631.1L149.7 624.4ZM127.1 644.6L128.4 651.3L127.1 658.0L124.1 651.3Z"/>
</g>
<rect x="31.55" y="597.50" width="215.00" height="80.70" fill="none" stroke="#2a2a2a" stroke-width="1.2"/>
<path d="M28.15 678.20H31.55M28.15 651.30H31.55M28.15 624.40H31.55M28.15 597.50H31.55M53.05 678.20V681.80M96.05 678.20V681.80M139.05 678.20V681.80M182.05 678.20V681.80M225.05 678.20V681.80" stroke="#2a2a2a" stroke-width="1" fill="none"/>
<g font-family="Liberation Serif, serif" font-size="13.6" fill="#222">
<text x="24.55" y="682.80" text-anchor="end">0</text>
<text x="24.55" y="655.90" text-anchor="end">2</text>
<text x="24.55" y="629.00" text-anchor="end">4</text>
<text x="24.55" y="602.10" text-anchor="end">6</text>
<text x="53.05" y="693.80" text-anchor="middle">−0.04</text>
<text x="96.05" y="693.80" text-anchor="middle">−0.02</text>
<text x="139.05" y="693.80" text-anchor="middle">0</text>
<text x="182.05" y="693.80" text-anchor="middle">0.02</text>
<text x="225.05" y="693.80" text-anchor="middle">0.04</text>
</g>
<text x="139.55" y="703.60" text-anchor="middle" font-family="Liberation Serif, serif" font-size="13.6" fill="#1a1a1a" stroke="#1a1a1a" stroke-width="0.35" letter-spacing="1.0" textLength="167" lengthAdjust="spacingAndGlyphs">Frequency(cycles/day)</text>
<text transform="translate(11.95 638.35) rotate(-90)" text-anchor="middle" font-family="Liberation Serif, serif" font-size="15.2" fill="#1a1a1a" stroke="#1a1a1a" stroke-width="0.35" letter-spacing="1.2" textLength="103" lengthAdjust="spacingAndGlyphs">Wavenumber</text>
</g>
<g>
<rect x="300.30" y="597.50" width="215.00" height="80.70" fill="#fff"/>
<g clip-path="url(#cai)">
<path fill="#21307a" fill-rule="evenodd" d="M312.2 597.5L324.2 597.5L336.1 597.5L348.1 597.5L360.0 597.5L372.0 597.5L383.9 597.5L395.9 597.5L404.8 597.5L404.8 611.0L404.8 624.4L407.8 631.1L409.8 624.4L409.8 611.0L410.8 597.5L419.7 597.5L431.7 597.5L443.6 597.5L455.6 597.5L467.5 597.5L479.5 597.5L491.4 597.5L503.4 597.5L515.3 597.5L515.3 611.0L515.3 624.4L515.3 637.9L515.3 651.3L515.3 664.8L515.3 678.2L503.4 678.2L491.4 678.2L479.5 678.2L467.5 678.2L455.6 678.2L443.6 678.2L431.7 678.2L419.7 678.2L410.8 678.2L409.3 664.8L407.8 658.0L406.3 664.8L405.8 678.2L395.9 678.2L383.9 678.2L372.0 678.2L360.0 678.2L348.1 678.2L336.1 678.2L324.2 678.2L312.2 678.2L300.3 678.2L300.3 664.8L300.3 651.3L300.3 637.9L300.3 624.4L300.3 611.0L300.3 597.5Z"/>
<path fill="#0a4f8f" fill-rule="evenodd" d="M312.2 600.9L324.2 600.9L330.2 597.5L336.1 597.5L348.1 597.5L360.0 597.5L366.0 597.5L372.0 604.2L377.9 611.0L383.9 617.7L389.9 611.0L389.9 597.5L395.9 597.5L398.8 597.5L398.8 611.0L398.8 624.4L404.8 637.9L406.3 651.3L403.3 664.8L401.8 678.2L395.9 678.2L383.9 678.2L372.0 678.2L360.0 678.2L348.1 678.2L342.1 678.2L336.1 671.5L324.2 671.5L318.2 678.2L312.2 678.2L306.3 678.2L306.3 664.8L300.3 658.0L300.3 651.3L300.3 637.9L300.3 624.4L300.3 611.0L300.3 597.5L306.3 597.5ZM306.3 637.9L312.2 644.6L318.2 637.9L312.2 635.6ZM366.0 651.3L372.0 654.7L377.9 651.3L372.0 644.6ZM419.7 597.5L431.7 597.5L443.6 597.5L449.6 597.5L455.6 604.2L467.5 604.2L479.5 604.2L485.4 611.0L491.4 617.7L503.4 617.7L509.3 624.4L515.3 631.1L515.3 637.9L515.3 651.3L515.3 664.8L515.3 678.2L503.4 678.2L491.4 678.2L479.5 678.2L467.5 678.2L455.6 678.2L443.6 678.2L431.7 678.2L419.7 678.2L416.8 678.2L412.3 664.8L409.0 651.3L409.0 637.9L413.8 624.4L413.8 611.0L416.8 597.5Z"/>
<path fill="#0787ad" fill-rule="evenodd" d="M312.2 607.6L324.2 607.6L336.1 600.9L348.1 600.9L360.0 604.2L366.0 611.0L372.0 617.7L377.9 624.4L372.0 631.1L360.0 631.1L354.1 637.9L354.1 651.3L357.0 664.8L348.1 674.8L339.1 664.8L342.1 651.3L342.1 637.9L336.1 634.5L324.2 631.1L312.2 631.1L300.3 631.1L300.3 624.4L300.3 611.0L300.3 604.2ZM419.7 604.2L431.7 604.2L437.7 611.0L431.7 617.7L425.7 624.4L431.7 631.1L437.7 637.9L443.6 644.6L449.6 651.3L455.6 654.7L461.5 651.3L467.5 644.6L473.5 637.9L479.5 631.1L485.4 637.9L491.4 641.2L503.4 644.6L515.3 644.6L515.3 651.3L515.3 664.8L515.3 671.5L503.4 676.0L497.4 678.2L491.4 678.2L479.5 678.2L467.5 678.2L455.6 678.2L443.6 678.2L431.7 678.2L425.7 678.2L419.7 674.8L415.3 664.8L411.4 651.3L411.4 637.9L417.8 624.4L417.8 611.0ZM395.9 631.1L398.8 637.9L403.3 651.3L400.3 664.8L397.8 678.2L395.9 678.2L383.9 678.2L372.0 678.2L366.0 678.2L366.0 664.8L372.0 661.4L383.9 658.0L385.9 651.3L389.9 637.9Z"/>
<path fill="#08b5a0" fill-rule="evenodd" d="M336.1 607.6L348.1 607.6L354.1 611.0L354.1 624.4L348.1 631.1L336.1 627.8L330.2 624.4L330.2 611.0ZM312.2 617.7L318.2 624.4L312.2 626.6L306.3 624.4ZM419.7 626.6L429.7 637.9L429.7 651.3L431.7 658.0L443.6 654.7L455.6 661.4L467.5 653.5L473.5 651.3L479.5 644.6L491.4 647.9L497.4 651.3L503.4 654.7L512.3 664.8L503.4 671.5L491.4 671.5L479.5 674.8L467.5 676.0L455.6 671.5L443.6 674.8L431.7 671.5L419.7 668.1L418.3 664.8L413.8 651.3L413.8 637.9ZM395.9 641.2L400.3 651.3L397.3 664.8L395.9 671.5L389.9 664.8L389.9 651.3ZM348.1 658.0L351.1 664.8L348.1 668.1L345.1 664.8Z"/>
<path fill="#3cb46b" fill-rule="evenodd" d="M419.7 631.1L425.7 637.9L425.7 651.3L419.7 661.4L416.2 651.3L416.2 637.9ZM395.9 647.9L397.3 651.3L395.9 658.0L393.9 651.3ZM443.6 661.4L449.6 664.8L443.6 668.1L437.7 664.8ZM467.5 658.0L479.5 658.0L485.4 664.8L479.5 668.1L467.5 671.5L458.6 664.8ZM503.4 661.4L506.3 664.8L503.4 667.0L497.4 664.8Z"/>
<path fill="#6cc070" fill-rule="evenodd" d="M419.7 635.6L421.7 637.9L421.7 651.3L419.7 654.7L418.5 651.3L418.5 637.9ZM467.5 662.5L473.5 664.8L467.5 667.0L464.5 664.8Z"/>
</g>
<rect x="300.30" y="597.50" width="215.00" height="80.70" fill="none" stroke="#2a2a2a" stroke-width="1.2"/>
<path d="M296.90 678.20H300.30M296.90 651.30H300.30M296.90 624.40H300.30M296.90 597.50H300.30M321.80 678.20V681.80M364.80 678.20V681.80M407.80 678.20V681.80M450.80 678.20V681.80M493.80 678.20V681.80" stroke="#2a2a2a" stroke-width="1" fill="none"/>
<g font-family="Liberation Serif, serif" font-size="13.6" fill="#222">
<text x="293.30" y="682.80" text-anchor="end">0</text>
<text x="293.30" y="655.90" text-anchor="end">2</text>
<text x="293.30" y="629.00" text-anchor="end">4</text>
<text x="293.30" y="602.10" text-anchor="end">6</text>
<text x="321.80" y="693.80" text-anchor="middle">−0.04</text>
<text x="364.80" y="693.80" text-anchor="middle">−0.02</text>
<text x="407.80" y="693.80" text-anchor="middle">0</text>
<text x="450.80" y="693.80" text-anchor="middle">0.02</text>
<text x="493.80" y="693.80" text-anchor="middle">0.04</text>
</g>
<text x="408.30" y="703.60" text-anchor="middle" font-family="Liberation Serif, serif" font-size="13.6" fill="#1a1a1a" stroke="#1a1a1a" stroke-width="0.35" letter-spacing="1.0" textLength="167" lengthAdjust="spacingAndGlyphs">Frequency(cycles/day)</text>
<text transform="translate(280.70 638.35) rotate(-90)" text-anchor="middle" font-family="Liberation Serif, serif" font-size="15.2" fill="#1a1a1a" stroke="#1a1a1a" stroke-width="0.35" letter-spacing="1.2" textLength="103" lengthAdjust="spacingAndGlyphs">Wavenumber</text>
</g>
<g>
<rect x="569.10" y="597.50" width="214.60" height="80.70" fill="#fff"/>
<g clip-path="url(#caj)">
<path fill="#21307a" fill-rule="evenodd" d="M581.0 597.5L592.9 597.5L604.9 597.5L610.8 597.5L616.8 604.2L628.7 604.2L634.7 611.0L634.7 624.4L640.6 631.1L646.6 624.4L652.6 613.2L654.5 611.0L664.5 601.3L670.4 611.0L670.4 624.4L673.4 637.9L673.4 651.3L674.9 664.8L674.4 678.2L664.5 678.2L652.6 678.2L640.6 678.2L628.7 678.2L616.8 678.2L604.9 678.2L592.9 678.2L581.0 678.2L572.5 678.2L569.1 674.4L569.1 664.8L569.1 651.3L569.1 637.9L569.1 624.4L569.1 611.0L569.1 597.5ZM688.3 597.5L700.2 597.5L710.2 597.5L712.2 599.7L724.1 604.8L736.0 604.2L747.9 603.5L753.2 597.5L759.9 597.5L771.8 597.5L777.7 597.5L783.7 604.2L783.7 611.0L783.7 624.4L783.7 637.9L783.7 651.3L783.7 664.8L783.7 671.5L777.7 678.2L771.8 678.2L759.9 678.2L747.9 678.2L736.0 678.2L724.1 678.2L712.2 678.2L700.2 678.2L688.3 678.2L679.4 678.2L678.4 664.8L677.4 651.3L677.4 637.9L677.9 624.4L678.4 611.0L682.4 597.5Z"/>
<path fill="#0a4f8f" fill-rule="evenodd" d="M688.3 600.9L700.2 604.2L706.2 611.0L712.2 617.7L718.1 624.4L724.1 631.1L730.1 637.9L736.0 644.6L747.9 644.6L759.9 644.6L765.8 651.3L765.8 664.8L759.9 671.5L753.9 678.2L747.9 678.2L736.0 678.2L724.1 678.2L712.2 678.2L700.2 678.2L688.3 678.2L685.3 678.2L682.4 664.8L679.4 651.3L679.4 637.9L680.9 624.4L682.4 611.0ZM575.1 637.9L569.1 644.6L569.1 637.9L569.1 631.1ZM664.5 631.1L667.5 637.9L667.5 651.3L671.9 664.8L670.4 678.2L664.5 678.2L652.6 678.2L640.6 678.2L628.7 678.2L622.8 678.2L628.7 671.5L634.7 664.8L640.6 658.0L646.6 651.3L652.6 644.6L658.5 637.9ZM604.9 658.0L616.8 658.0L622.8 664.8L616.8 671.5L610.8 678.2L604.9 678.2L598.9 678.2L598.9 664.8Z"/>
<path fill="#0787ad" fill-rule="evenodd" d="M688.3 607.6L694.3 611.0L697.3 624.4L698.8 637.9L700.2 644.6L712.2 640.1L722.1 651.3L721.1 664.8L718.1 678.2L712.2 678.2L700.2 678.2L694.3 678.2L688.3 671.5L686.3 664.8L681.4 651.3L681.4 637.9L683.9 624.4L686.3 611.0ZM652.6 658.0L664.5 654.7L668.9 664.8L666.5 678.2L664.5 678.2L652.6 678.2L640.6 678.2L634.7 678.2L640.6 671.5L646.6 664.8ZM736.0 658.0L742.0 664.8L736.0 671.5L730.1 664.8Z"/>
<path fill="#08b5a0" fill-rule="evenodd" d="M688.3 617.7L691.3 624.4L695.8 637.9L698.3 651.3L688.3 662.5L683.4 651.3L683.4 637.9L686.8 624.4ZM712.2 644.6L718.1 651.3L715.1 664.8L712.2 671.5L706.2 664.8L703.2 651.3ZM664.5 661.4L666.0 664.8L664.5 671.5L658.5 664.8Z"/>
<path fill="#3cb46b" fill-rule="evenodd" d="M688.3 627.8L692.8 637.9L694.3 651.3L688.3 658.0L685.3 651.3L685.3 637.9ZM712.2 649.1L714.2 651.3L712.2 658.0L709.2 651.3Z"/>
<path fill="#6cc070" fill-rule="evenodd" d="M688.3 634.5L689.8 637.9L690.3 651.3L688.3 653.5L687.3 651.3L687.3 637.9Z"/>
</g>
<rect x="569.10" y="597.50" width="214.60" height="80.70" fill="none" stroke="#2a2a2a" stroke-width="1.2"/>
<path d="M565.70 678.20H569.10M565.70 651.30H569.10M565.70 624.40H569.10M565.70 597.50H569.10M590.56 678.20V681.80M633.48 678.20V681.80M676.40 678.20V681.80M719.32 678.20V681.80M762.24 678.20V681.80" stroke="#2a2a2a" stroke-width="1" fill="none"/>
<g font-family="Liberation Serif, serif" font-size="13.6" fill="#222">
<text x="562.10" y="682.80" text-anchor="end">0</text>
<text x="562.10" y="655.90" text-anchor="end">2</text>
<text x="562.10" y="629.00" text-anchor="end">4</text>
<text x="562.10" y="602.10" text-anchor="end">6</text>
<text x="590.56" y="693.80" text-anchor="middle">−0.04</text>
<text x="633.48" y="693.80" text-anchor="middle">−0.02</text>
<text x="676.40" y="693.80" text-anchor="middle">0</text>
<text x="719.32" y="693.80" text-anchor="middle">0.02</text>
<text x="762.24" y="693.80" text-anchor="middle">0.04</text>
</g>
<text x="676.90" y="703.60" text-anchor="middle" font-family="Liberation Serif, serif" font-size="13.6" fill="#1a1a1a" stroke="#1a1a1a" stroke-width="0.35" letter-spacing="1.0" textLength="167" lengthAdjust="spacingAndGlyphs">Frequency(cycles/day)</text>
<text transform="translate(549.50 638.35) rotate(-90)" text-anchor="middle" font-family="Liberation Serif, serif" font-size="15.2" fill="#1a1a1a" stroke="#1a1a1a" stroke-width="0.35" letter-spacing="1.2" textLength="103" lengthAdjust="spacingAndGlyphs">Wavenumber</text>
</g>
<g>
<rect x="31.55" y="741.00" width="215.00" height="80.70" fill="#fff"/>
<g clip-path="url(#cak)">
<path fill="#21307a" fill-rule="evenodd" d="M43.5 741.0L55.4 741.0L67.4 741.0L79.3 741.0L91.3 741.0L103.2 741.0L115.2 741.0L127.1 741.0L133.1 741.0L133.1 754.5L136.1 767.9L136.1 781.4L139.1 788.1L140.5 781.4L141.0 767.9L142.0 754.5L142.0 741.0L151.0 741.0L162.9 741.0L174.9 741.0L186.8 741.0L198.8 741.0L210.7 741.0L222.7 741.0L234.6 741.0L246.6 741.0L246.6 754.5L246.6 767.9L246.6 781.4L246.6 794.8L246.6 808.2L246.6 821.7L234.6 821.7L222.7 821.7L210.7 821.7L198.8 821.7L186.8 821.7L174.9 821.7L162.9 821.7L151.0 821.7L142.0 821.7L141.0 808.2L139.1 801.5L137.9 808.2L136.1 821.7L127.1 821.7L115.2 821.7L103.2 821.7L91.3 821.7L79.3 821.7L67.4 821.7L55.4 821.7L43.5 821.7L31.6 821.7L31.6 808.2L31.6 794.8L31.6 781.4L31.6 767.9L31.6 754.5L31.6 741.0Z"/>
<path fill="#0a4f8f" fill-rule="evenodd" d="M43.5 741.0L55.4 741.0L67.4 741.0L79.3 741.0L91.3 741.0L103.2 741.0L109.2 741.0L109.2 754.5L112.2 767.9L109.2 781.4L115.2 784.7L121.1 781.4L121.1 767.9L127.1 761.2L130.1 767.9L130.1 781.4L137.1 794.8L135.5 808.2L130.1 821.7L127.1 821.7L115.2 821.7L103.2 821.7L91.3 821.7L79.3 821.7L73.4 821.7L67.4 815.0L61.4 808.2L55.4 801.5L49.5 794.8L43.5 791.4L31.6 788.1L31.6 781.4L31.6 767.9L31.6 761.2L43.5 761.2L49.5 754.5L43.5 747.7L31.6 747.7L31.6 741.0ZM151.0 741.0L157.0 741.0L162.9 747.7L174.9 747.7L186.8 747.7L192.8 754.5L198.8 761.2L210.7 761.2L222.7 761.2L228.6 767.9L234.6 771.3L246.6 770.1L246.6 781.4L246.6 794.8L246.6 808.2L246.6 821.7L234.6 821.7L222.7 821.7L210.7 821.7L198.8 821.7L186.8 821.7L174.9 821.7L162.9 821.7L151.0 821.7L148.0 821.7L145.0 808.2L140.5 794.8L143.5 781.4L145.0 767.9L148.0 754.5L148.0 741.0ZM43.5 801.5L49.5 808.2L43.5 815.0L37.5 808.2Z"/>
<path fill="#0787ad" fill-rule="evenodd" d="M67.4 741.0L73.4 741.0L79.3 747.7L91.3 747.7L97.2 754.5L103.2 761.2L106.2 767.9L103.2 774.6L91.3 774.6L85.3 781.4L79.3 788.1L67.4 788.1L61.4 781.4L61.4 767.9L61.4 754.5L61.4 741.0ZM151.0 761.2L162.9 761.2L168.9 767.9L168.9 781.4L174.9 788.1L180.9 781.4L180.9 767.9L186.8 761.2L192.8 767.9L198.8 774.6L204.7 781.4L210.7 788.1L216.7 794.8L222.7 801.5L225.6 794.8L228.6 781.4L234.6 778.0L246.6 774.6L246.6 781.4L246.6 794.8L246.6 808.2L246.6 818.3L234.6 818.3L222.7 815.0L216.7 821.7L210.7 821.7L198.8 821.7L186.8 821.7L174.9 821.7L162.9 821.7L157.0 821.7L151.0 815.0L149.0 808.2L143.5 794.8L146.5 781.4L149.0 767.9ZM43.5 774.6L49.5 781.4L43.5 784.7L37.5 781.4ZM115.2 791.4L127.1 784.7L133.1 794.8L133.1 808.2L127.1 819.5L115.2 815.0L109.2 808.2L109.2 794.8ZM91.3 815.0L97.2 821.7L91.3 821.7L85.3 821.7Z"/>
<path fill="#08b5a0" fill-rule="evenodd" d="M79.3 757.8L88.3 767.9L79.3 778.0L70.4 767.9ZM151.0 774.6L157.0 781.4L160.0 794.8L162.9 801.5L174.9 797.0L180.9 794.8L186.8 788.1L192.8 794.8L198.8 798.2L210.7 801.5L216.7 808.2L210.7 815.0L198.8 818.3L186.8 819.5L174.9 819.5L162.9 815.0L157.0 808.2L151.0 804.9L146.5 794.8L149.5 781.4ZM246.6 779.1L246.6 781.4L246.6 794.8L246.6 808.2L246.6 811.6L234.6 811.6L228.6 808.2L231.6 794.8L234.6 788.1L240.6 781.4ZM127.1 791.4L129.1 794.8L130.7 808.2L127.1 815.0L118.1 808.2L121.1 794.8Z"/>
<path fill="#3cb46b" fill-rule="evenodd" d="M79.3 764.5L82.3 767.9L79.3 771.3L76.3 767.9ZM151.0 788.1L154.0 794.8L151.0 798.2L149.5 794.8ZM246.6 788.1L246.6 794.8L246.6 801.5L240.6 794.8ZM127.1 801.5L128.3 808.3L127.1 810.5L124.1 808.2ZM174.9 801.5L186.8 798.2L198.8 804.9L204.7 808.2L198.8 811.6L186.8 815.0L174.9 815.0L165.9 808.2Z"/>
<path fill="#6cc070" fill-rule="evenodd" d="M174.9 806.0L186.8 804.9L192.8 808.2L186.8 810.5L174.9 810.5L171.9 808.2Z"/>
</g>
<rect x="31.55" y="741.00" width="215.00" height="80.70" fill="none" stroke="#2a2a2a" stroke-width="1.2"/>
<path d="M28.15 821.70H31.55M28.15 794.80H31.55M28.15 767.90H31.55M28.15 741.00H31.55M53.05 821.70V825.30M96.05 821.70V825.30M139.05 821.70V825.30M182.05 821.70V825.30M225.05 821.70V825.30" stroke="#2a2a2a" stroke-width="1" fill="none"/>
<g font-family="Liberation Serif, serif" font-size="13.6" fill="#222">
<text x="24.55" y="826.30" text-anchor="end">0</text>
<text x="24.55" y="799.40" text-anchor="end">2</text>
<text x="24.55" y="772.50" text-anchor="end">4</text>
<text x="24.55" y="745.60" text-anchor="end">6</text>
<text x="53.05" y="837.30" text-anchor="middle">−0.04</text>
<text x="96.05" y="837.30" text-anchor="middle">−0.02</text>
<text x="139.05" y="837.30" text-anchor="middle">0</text>
<text x="182.05" y="837.30" text-anchor="middle">0.02</text>
<text x="225.05" y="837.30" text-anchor="middle">0.04</text>
</g>
<text x="139.55" y="847.10" text-anchor="middle" font-family="Liberation Serif, serif" font-size="13.6" fill="#1a1a1a" stroke="#1a1a1a" stroke-width="0.35" letter-spacing="1.0" textLength="167" lengthAdjust="spacingAndGlyphs">Frequency(cycles/day)</text>
<text transform="translate(11.95 781.85) rotate(-90)" text-anchor="middle" font-family="Liberation Serif, serif" font-size="15.2" fill="#1a1a1a" stroke="#1a1a1a" stroke-width="0.35" letter-spacing="1.2" textLength="103" lengthAdjust="spacingAndGlyphs">Wavenumber</text>
</g>
<g>
<rect x="300.30" y="741.00" width="215.00" height="80.70" fill="#fff"/>
<g clip-path="url(#cal)">
<path fill="#21307a" fill-rule="evenodd" d="M312.2 741.0L324.2 741.0L336.1 741.0L348.1 741.0L360.0 741.0L372.0 741.0L383.9 741.0L395.9 741.0L401.8 741.0L404.8 754.5L405.8 767.9L407.8 774.6L408.5 767.9L409.3 754.5L410.8 741.0L419.7 741.0L431.7 741.0L443.6 741.0L455.6 741.0L467.5 741.0L479.5 741.0L485.4 741.0L491.4 747.7L497.4 754.5L503.4 761.2L509.3 754.5L515.3 747.7L515.3 754.5L515.3 767.9L515.3 781.4L515.3 794.8L515.3 801.5L503.4 801.5L497.4 808.2L491.4 815.0L479.5 815.0L473.5 821.7L467.5 821.7L455.6 821.7L443.6 821.7L431.7 821.7L419.7 821.7L410.8 821.7L409.0 808.2L407.8 801.5L404.8 808.2L401.8 821.7L395.9 821.7L383.9 821.7L372.0 821.7L360.0 821.7L348.1 821.7L342.1 821.7L336.1 815.0L330.2 808.2L330.2 794.8L324.2 788.1L318.2 794.8L312.2 801.5L300.3 801.5L300.3 794.8L300.3 781.4L300.3 767.9L300.3 754.5L300.3 741.0Z"/>
<path fill="#0a4f8f" fill-rule="evenodd" d="M360.0 747.7L366.0 754.5L366.0 767.9L360.0 774.6L352.6 767.9L354.1 754.5ZM383.9 747.7L395.9 747.7L398.8 754.5L401.8 767.9L401.8 781.4L405.8 794.8L398.8 808.2L395.9 815.0L383.9 815.0L377.9 808.2L372.0 801.5L366.0 794.8L372.0 788.1L377.9 781.4L377.9 767.9L377.9 754.5ZM419.7 741.0L425.7 741.0L431.7 744.4L443.6 747.7L449.6 754.5L455.6 761.2L467.5 761.2L479.5 761.2L485.4 767.9L485.4 781.4L479.5 788.1L473.5 794.8L473.5 808.2L467.5 815.0L455.6 815.0L449.6 821.7L443.6 821.7L431.7 821.7L419.7 821.7L416.8 821.7L411.4 808.2L408.5 794.8L408.4 781.4L410.0 767.9L412.3 754.5L416.8 741.0Z"/>
<path fill="#0787ad" fill-rule="evenodd" d="M419.7 744.4L431.7 751.1L437.7 754.5L443.6 761.2L449.6 767.9L452.6 781.4L452.6 794.8L449.6 808.2L443.6 815.0L431.7 818.3L419.7 819.5L413.8 808.2L409.8 794.8L409.6 781.4L411.5 767.9L415.3 754.5ZM395.9 761.2L397.8 767.9L395.9 774.6L389.9 767.9ZM395.9 784.7L401.8 794.8L395.9 804.9L386.9 794.8Z"/>
<path fill="#08b5a0" fill-rule="evenodd" d="M419.7 751.1L425.7 754.5L431.7 756.7L441.6 767.9L443.6 774.6L446.6 781.4L446.6 794.8L443.6 801.5L437.7 808.2L431.7 811.6L419.7 815.0L416.2 808.2L411.1 794.8L410.8 781.4L413.0 767.9L418.3 754.5ZM395.9 791.4L397.8 794.8L395.9 798.2L392.9 794.8Z"/>
<path fill="#3cb46b" fill-rule="evenodd" d="M419.7 756.1L431.7 761.2L437.7 767.9L442.1 781.4L441.6 794.8L431.7 806.0L425.7 808.2L419.7 810.5L418.5 808.3L412.4 794.8L412.0 781.4L414.5 767.9Z"/>
<path fill="#6cc070" fill-rule="evenodd" d="M419.7 759.5L431.7 765.7L433.7 767.9L439.2 781.4L437.7 794.8L431.7 801.5L419.7 806.9L413.8 794.8L413.2 781.4L416.0 767.9Z"/>
<path fill="#8ecb72" fill-rule="evenodd" d="M419.7 762.9L428.7 767.9L431.7 771.3L436.2 781.4L433.7 794.8L431.7 797.0L419.7 804.2L415.1 794.8L414.4 781.4L417.5 767.9Z"/>
<path fill="#b2d46a" fill-rule="evenodd" d="M419.7 766.2L422.7 767.9L431.7 778.0L433.2 781.4L431.7 788.1L429.7 794.8L419.7 801.5L416.4 794.8L415.6 781.4L419.0 767.9Z"/>
<path fill="#d3df50" fill-rule="evenodd" d="M419.7 770.1L429.7 781.3L425.7 794.8L419.7 798.8L417.8 794.8L416.8 781.4Z"/>
<path fill="#cab626" fill-rule="evenodd" d="M419.7 774.6L425.7 781.4L421.7 794.8L419.7 796.1L419.1 794.8L418.0 781.4Z"/>
<path fill="#b86b1e" fill-rule="evenodd" d="M419.7 779.1L421.7 781.4L419.7 788.1L419.1 781.4Z"/>
</g>
<rect x="300.30" y="741.00" width="215.00" height="80.70" fill="none" stroke="#2a2a2a" stroke-width="1.2"/>
<path d="M296.90 821.70H300.30M296.90 794.80H300.30M296.90 767.90H300.30M296.90 741.00H300.30M321.80 821.70V825.30M364.80 821.70V825.30M407.80 821.70V825.30M450.80 821.70V825.30M493.80 821.70V825.30" stroke="#2a2a2a" stroke-width="1" fill="none"/>
<g font-family="Liberation Serif, serif" font-size="13.6" fill="#222">
<text x="293.30" y="826.30" text-anchor="end">0</text>
<text x="293.30" y="799.40" text-anchor="end">2</text>
<text x="293.30" y="772.50" text-anchor="end">4</text>
<text x="293.30" y="745.60" text-anchor="end">6</text>
<text x="321.80" y="837.30" text-anchor="middle">−0.04</text>
<text x="364.80" y="837.30" text-anchor="middle">−0.02</text>
<text x="407.80" y="837.30" text-anchor="middle">0</text>
<text x="450.80" y="837.30" text-anchor="middle">0.02</text>
<text x="493.80" y="837.30" text-anchor="middle">0.04</text>
</g>
<text x="408.30" y="847.10" text-anchor="middle" font-family="Liberation Serif, serif" font-size="13.6" fill="#1a1a1a" stroke="#1a1a1a" stroke-width="0.35" letter-spacing="1.0" textLength="167" lengthAdjust="spacingAndGlyphs">Frequency(cycles/day)</text>
<text transform="translate(280.70 781.85) rotate(-90)" text-anchor="middle" font-family="Liberation Serif, serif" font-size="15.2" fill="#1a1a1a" stroke="#1a1a1a" stroke-width="0.35" letter-spacing="1.2" textLength="103" lengthAdjust="spacingAndGlyphs">Wavenumber</text>
</g>
<polygon points="31.98,863.60 35.28,860.30 787.88,860.30 787.88,871.00 784.58,874.30 784.58,863.60" fill="#141414"/>
<rect x="31.98" y="863.60" width="44.27" height="10.70" fill="#ffffff" stroke="#333" stroke-width="0.8"/>
<rect x="76.25" y="863.60" width="44.27" height="10.70" fill="#21307a" stroke="#333" stroke-width="0.8"/>
<rect x="120.52" y="863.60" width="44.27" height="10.70" fill="#0a4f8f" stroke="#333" stroke-width="0.8"/>
<rect x="164.79" y="863.60" width="44.27" height="10.70" fill="#0787ad" stroke="#333" stroke-width="0.8"/>
<rect x="209.06" y="863.60" width="44.27" height="10.70" fill="#08b5a0" stroke="#333" stroke-width="0.8"/>
<rect x="253.33" y="863.60" width="44.27" height="10.70" fill="#3cb46b" stroke="#333" stroke-width="0.8"/>
<rect x="297.60" y="863.60" width="44.27" height="10.70" fill="#6cc070" stroke="#333" stroke-width="0.8"/>
<rect x="341.87" y="863.60" width="44.27" height="10.70" fill="#8ecb72" stroke="#333" stroke-width="0.8"/>
<rect x="386.14" y="863.60" width="44.27" height="10.70" fill="#b2d46a" stroke="#333" stroke-width="0.8"/>
<rect x="430.41" y="863.60" width="44.27" height="10.70" fill="#d3df50" stroke="#333" stroke-width="0.8"/>
<rect x="474.68" y="863.60" width="44.27" height="10.70" fill="#cab626" stroke="#333" stroke-width="0.8"/>
<rect x="518.95" y="863.60" width="44.27" height="10.70" fill="#b86b1e" stroke="#333" stroke-width="0.8"/>
<rect x="563.22" y="863.60" width="44.27" height="10.70" fill="#c27727" stroke="#333" stroke-width="0.8"/>
<rect x="607.50" y="863.60" width="44.27" height="10.70" fill="#a3391a" stroke="#333" stroke-width="0.8"/>
<rect x="651.77" y="863.60" width="44.27" height="10.70" fill="#a1391b" stroke="#333" stroke-width="0.8"/>
<rect x="696.04" y="863.60" width="44.27" height="10.70" fill="#71060a" stroke="#333" stroke-width="0.8"/>
<rect x="740.31" y="863.60" width="44.27" height="10.70" fill="#70060a" stroke="#333" stroke-width="0.8"/>
<g font-family="Liberation Serif, serif" font-weight="bold" font-style="italic" font-size="18.5" fill="#111" stroke="#111" stroke-width="1.5" stroke-linejoin="round">
<text x="54.13" y="889.30" textLength="46.50" lengthAdjust="spacingAndGlyphs">0.002</text>
<text x="142.33" y="889.30" textLength="47.30" lengthAdjust="spacingAndGlyphs">0.006</text>
<text x="237.13" y="889.30" textLength="34.00" lengthAdjust="spacingAndGlyphs">0.01</text>
<text x="319.73" y="889.30" textLength="46.70" lengthAdjust="spacingAndGlyphs">0.014</text>
<text x="408.63" y="889.30" textLength="46.50" lengthAdjust="spacingAndGlyphs">0.018</text>
<text x="496.93" y="889.30" textLength="47.40" lengthAdjust="spacingAndGlyphs">0.022</text>
<text x="586.13" y="889.30" textLength="46.50" lengthAdjust="spacingAndGlyphs">0.026</text>
<text x="678.33" y="889.30" textLength="36.70" lengthAdjust="spacingAndGlyphs">0.03</text>
</g>
</g>
<text x="30.60" y="16.60" font-family="Liberation Serif, serif" font-weight="bold" font-size="21.5" fill="#111" textLength="8.60" lengthAdjust="spacingAndGlyphs">v</text>
<text x="50.20" y="16.60" font-family="Liberation Serif, serif" font-size="16.8" fill="#1e1e1e" stroke="#1e1e1e" stroke-width="0.3" letter-spacing="1.6" textLength="103.10" lengthAdjust="spacingAndGlyphs">MPI−ESM−P</text>
<text x="210.50" y="15.40" font-family="Liberation Sans, sans-serif" font-size="11.5" fill="#1e1e1e" stroke="#1e1e1e" stroke-width="0.25" textLength="35.70" lengthAdjust="spacingAndGlyphs">(0.66)</text>
<text x="297.30" y="16.60" font-family="Liberation Serif, serif" font-weight="bold" font-size="21.5" fill="#111" textLength="13.50" lengthAdjust="spacingAndGlyphs">w</text>
<text x="322.20" y="16.60" font-family="Liberation Serif, serif" font-size="16.8" fill="#1e1e1e" stroke="#1e1e1e" stroke-width="0.3" letter-spacing="1.6" textLength="104.10" lengthAdjust="spacingAndGlyphs">NorESM1−M</text>
<text x="478.40" y="15.40" font-family="Liberation Sans, sans-serif" font-size="11.5" fill="#1e1e1e" stroke="#1e1e1e" stroke-width="0.25" textLength="37.30" lengthAdjust="spacingAndGlyphs">(0.62)</text>
<text x="564.30" y="16.60" font-family="Liberation Serif, serif" font-weight="bold" font-size="21.5" fill="#111" textLength="9.80" lengthAdjust="spacingAndGlyphs">x</text>
<text x="587.80" y="16.60" font-family="Liberation Serif, serif" font-size="16.8" fill="#1e1e1e" stroke="#1e1e1e" stroke-width="0.3" letter-spacing="1.6" textLength="149.90" lengthAdjust="spacingAndGlyphs">CSIRO−Mk3−6−0</text>
<text x="747.70" y="15.40" font-family="Liberation Sans, sans-serif" font-size="11.5" fill="#1e1e1e" stroke="#1e1e1e" stroke-width="0.25" textLength="35.30" lengthAdjust="spacingAndGlyphs">(0.47)</text>
<text x="30.30" y="158.00" font-family="Liberation Serif, serif" font-weight="bold" font-size="21.5" fill="#111" textLength="8.70" lengthAdjust="spacingAndGlyphs">y</text>
<text x="49.30" y="158.00" font-family="Liberation Serif, serif" font-size="16.8" fill="#1e1e1e" stroke="#1e1e1e" stroke-width="0.3" letter-spacing="1.6" textLength="118.70" lengthAdjust="spacingAndGlyphs">HadGEM2−CC</text>
<text x="210.40" y="156.80" font-family="Liberation Sans, sans-serif" font-size="11.5" fill="#1e1e1e" stroke="#1e1e1e" stroke-width="0.25" textLength="35.80" lengthAdjust="spacingAndGlyphs">(0.50)</text>
<text x="297.30" y="158.00" font-family="Liberation Serif, serif" font-weight="bold" font-size="21.5" fill="#111" textLength="7.90" lengthAdjust="spacingAndGlyphs">z</text>
<text x="317.80" y="158.00" font-family="Liberation Serif, serif" font-size="16.8" fill="#1e1e1e" stroke="#1e1e1e" stroke-width="0.3" letter-spacing="1.6" textLength="66.00" lengthAdjust="spacingAndGlyphs">INMCM4</text>
<text x="479.00" y="156.80" font-family="Liberation Sans, sans-serif" font-size="11.5" fill="#1e1e1e" stroke="#1e1e1e" stroke-width="0.25" textLength="35.10" lengthAdjust="spacingAndGlyphs">(0.51)</text>
<text x="564.40" y="158.00" font-family="Liberation Serif, serif" font-weight="bold" font-size="21.5" fill="#111" textLength="19.90" lengthAdjust="spacingAndGlyphs">aa</text>
<text x="599.00" y="158.00" font-family="Liberation Serif, serif" font-size="16.8" fill="#1e1e1e" stroke="#1e1e1e" stroke-width="0.3" letter-spacing="1.6" textLength="74.70" lengthAdjust="spacingAndGlyphs">MIROC4h</text>
<text x="746.90" y="156.80" font-family="Liberation Sans, sans-serif" font-size="11.5" fill="#1e1e1e" stroke="#1e1e1e" stroke-width="0.25" textLength="36.10" lengthAdjust="spacingAndGlyphs">(0.57)</text>
<text x="30.30" y="304.70" font-family="Liberation Serif, serif" font-weight="bold" font-size="21.5" fill="#111" textLength="20.50" lengthAdjust="spacingAndGlyphs">ab</text>
<text x="61.00" y="304.70" font-family="Liberation Serif, serif" font-size="16.8" fill="#1e1e1e" stroke="#1e1e1e" stroke-width="0.3" letter-spacing="1.6" textLength="103.20" lengthAdjust="spacingAndGlyphs">MRI−CGCM3</text>
<text x="209.90" y="303.50" font-family="Liberation Sans, sans-serif" font-size="11.5" fill="#1e1e1e" stroke="#1e1e1e" stroke-width="0.25" textLength="35.70" lengthAdjust="spacingAndGlyphs">(0.66)</text>
<text x="297.30" y="304.70" font-family="Liberation Serif, serif" font-weight="bold" font-size="21.5" fill="#111" textLength="18.50" lengthAdjust="spacingAndGlyphs">ac</text>
<text x="328.70" y="304.70" font-family="Liberation Serif, serif" font-size="16.8" fill="#1e1e1e" stroke="#1e1e1e" stroke-width="0.3" letter-spacing="1.6" textLength="92.60" lengthAdjust="spacingAndGlyphs">GFDL−CM3</text>
<text x="477.50" y="303.50" font-family="Liberation Sans, sans-serif" font-size="11.5" fill="#1e1e1e" stroke="#1e1e1e" stroke-width="0.25" textLength="36.60" lengthAdjust="spacingAndGlyphs">(0.54)</text>
<text x="564.40" y="304.70" font-family="Liberation Serif, serif" font-weight="bold" font-size="21.5" fill="#111" textLength="21.40" lengthAdjust="spacingAndGlyphs">ad</text>
<text x="598.40" y="304.70" font-family="Liberation Serif, serif" font-size="16.8" fill="#1e1e1e" stroke="#1e1e1e" stroke-width="0.3" letter-spacing="1.6" textLength="117.70" lengthAdjust="spacingAndGlyphs">HadGEM2−ES</text>
<text x="30.30" y="448.10" font-family="Liberation Serif, serif" font-weight="bold" font-size="21.5" fill="#111" textLength="19.00" lengthAdjust="spacingAndGlyphs">ae</text>
<text x="59.60" y="448.10" font-family="Liberation Serif, serif" font-size="16.8" fill="#1e1e1e" stroke="#1e1e1e" stroke-width="0.3" letter-spacing="1.6" textLength="68.80" lengthAdjust="spacingAndGlyphs">HadCM3</text>
<text x="209.00" y="446.90" font-family="Liberation Sans, sans-serif" font-size="11.5" fill="#1e1e1e" stroke="#1e1e1e" stroke-width="0.25" textLength="36.00" lengthAdjust="spacingAndGlyphs">(0.53)</text>
<text x="297.30" y="448.10" font-family="Liberation Serif, serif" font-weight="bold" font-size="21.5" fill="#111" textLength="18.50" lengthAdjust="spacingAndGlyphs">af</text>
<text x="324.60" y="448.10" font-family="Liberation Serif, serif" font-size="16.8" fill="#1e1e1e" stroke="#1e1e1e" stroke-width="0.3" letter-spacing="1.6" textLength="100.80" lengthAdjust="spacingAndGlyphs">ACCESS1−0</text>
<text x="477.50" y="446.90" font-family="Liberation Sans, sans-serif" font-size="11.5" fill="#1e1e1e" stroke="#1e1e1e" stroke-width="0.25" textLength="35.80" lengthAdjust="spacingAndGlyphs">(0.51)</text>
<text x="564.40" y="448.10" font-family="Liberation Serif, serif" font-weight="bold" font-size="21.5" fill="#111" textLength="20.80" lengthAdjust="spacingAndGlyphs">ag</text>
<text x="596.90" y="448.10" font-family="Liberation Serif, serif" font-size="16.8" fill="#1e1e1e" stroke="#1e1e1e" stroke-width="0.3" letter-spacing="1.6" textLength="99.60" lengthAdjust="spacingAndGlyphs">ACCESS1−3</text>
<text x="746.90" y="446.90" font-family="Liberation Sans, sans-serif" font-size="11.5" fill="#1e1e1e" stroke="#1e1e1e" stroke-width="0.25" textLength="35.10" lengthAdjust="spacingAndGlyphs">(0.56)</text>
<text x="30.30" y="592.30" font-family="Liberation Serif, serif" font-weight="bold" font-size="21.5" fill="#111" textLength="19.90" lengthAdjust="spacingAndGlyphs">ah</text>
<text x="60.40" y="592.30" font-family="Liberation Serif, serif" font-size="16.8" fill="#1e1e1e" stroke="#1e1e1e" stroke-width="0.3" letter-spacing="1.6" textLength="68.00" lengthAdjust="spacingAndGlyphs">CanCM4</text>
<text x="297.30" y="592.30" font-family="Liberation Serif, serif" font-weight="bold" font-size="21.5" fill="#111" textLength="15.60" lengthAdjust="spacingAndGlyphs">ai</text>
<text x="322.80" y="592.30" font-family="Liberation Serif, serif" font-size="16.8" fill="#1e1e1e" stroke="#1e1e1e" stroke-width="0.3" letter-spacing="1.6" textLength="56.60" lengthAdjust="spacingAndGlyphs">CCSM4</text>
<text x="564.40" y="592.30" font-family="Liberation Serif, serif" font-weight="bold" font-size="21.5" fill="#111" textLength="17.00" lengthAdjust="spacingAndGlyphs">aj</text>
<text x="591.60" y="592.30" font-family="Liberation Serif, serif" font-size="16.8" fill="#1e1e1e" stroke="#1e1e1e" stroke-width="0.3" letter-spacing="1.6" textLength="117.20" lengthAdjust="spacingAndGlyphs">CESM1−CAM5</text>
<text x="30.30" y="736.10" font-family="Liberation Serif, serif" font-weight="bold" font-size="21.5" fill="#111" textLength="19.90" lengthAdjust="spacingAndGlyphs">ak</text>
<text x="59.00" y="736.10" font-family="Liberation Serif, serif" font-size="16.8" fill="#1e1e1e" stroke="#1e1e1e" stroke-width="0.3" letter-spacing="1.6" textLength="162.60" lengthAdjust="spacingAndGlyphs">CESM1−FASTCHEM</text>
<text x="297.30" y="736.10" font-family="Liberation Serif, serif" font-weight="bold" font-size="21.5" fill="#111" textLength="14.70" lengthAdjust="spacingAndGlyphs">al</text>
<text x="321.60" y="736.10" font-family="Liberation Serif, serif" font-size="16.8" fill="#1e1e1e" stroke="#1e1e1e" stroke-width="0.3" letter-spacing="1.6" textLength="93.80" lengthAdjust="spacingAndGlyphs">EC−EARTH</text>
</svg>
</body></html>
